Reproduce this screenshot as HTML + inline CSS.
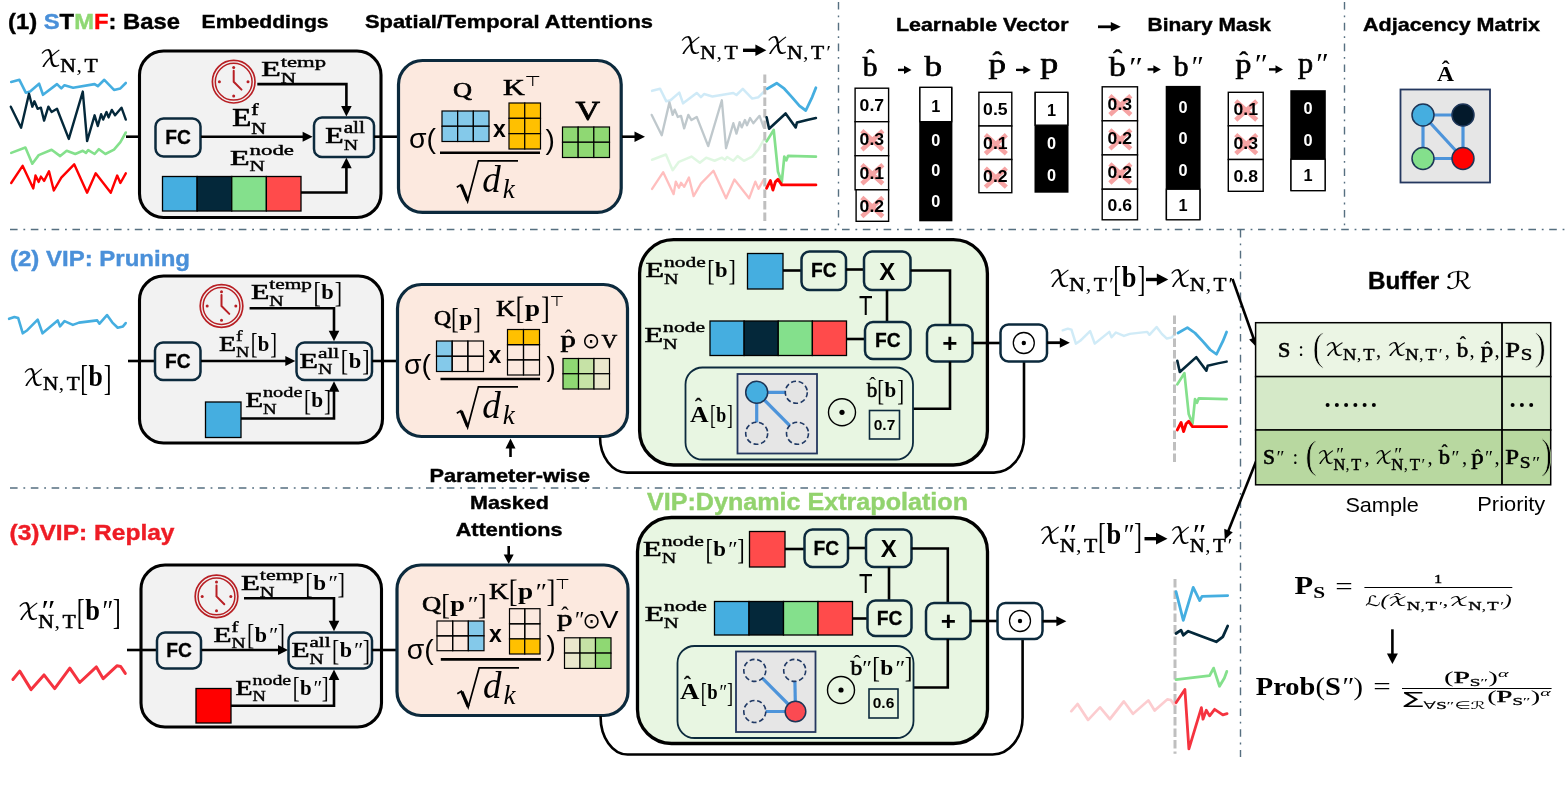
<!DOCTYPE html>
<html lang="en"><head><meta charset="utf-8"><title>STMF / VIP framework</title>
<style>
html,body{margin:0;padding:0;background:#fff}
body{width:1568px;height:790px;overflow:hidden}
svg{display:block}
text{white-space:pre}
</style></head><body>
<svg width="1568" height="790" viewBox="0 0 1568 790">
<line x1="10" y1="229.5" x2="1568" y2="229.5" stroke="#566f80" stroke-width="1.4" stroke-dasharray="7.6 5.8 1.8 5.6"/>
<line x1="10" y1="488" x2="1240" y2="488" stroke="#566f80" stroke-width="1.4" stroke-dasharray="7.6 5.8 1.8 5.6"/>
<line x1="838.5" y1="2" x2="838.5" y2="229" stroke="#566f80" stroke-width="1.4" stroke-dasharray="7.6 5.8 1.8 5.6"/>
<line x1="1344.5" y1="2" x2="1344.5" y2="229" stroke="#566f80" stroke-width="1.4" stroke-dasharray="7.6 5.8 1.8 5.6"/>
<line x1="1240.5" y1="230" x2="1240.5" y2="757" stroke="#566f80" stroke-width="1.4" stroke-dasharray="7.6 5.8 1.8 5.6"/>
<text x="8" y="28.8" font-family='"Liberation Sans", sans-serif' font-size="22.5" font-weight="bold" stroke-width="0.4" textLength="172" lengthAdjust="spacingAndGlyphs"><tspan stroke="#000">(1) </tspan><tspan fill="#4a90d9" stroke="#4a90d9">S</tspan><tspan stroke="#000">T</tspan><tspan fill="#8fd873" stroke="#8fd873">M</tspan><tspan fill="#ff0000" stroke="#ff0000">F</tspan><tspan stroke="#000">: Base</tspan></text>
<text x="201.6" y="28.3" font-family='"Liberation Sans", sans-serif' font-size="19" font-weight="bold" textLength="127" lengthAdjust="spacingAndGlyphs" stroke="#000" stroke-width="0.4">Embeddings</text>
<text x="365" y="28.3" font-family='"Liberation Sans", sans-serif' font-size="19" font-weight="bold" textLength="288" lengthAdjust="spacingAndGlyphs" stroke="#000" stroke-width="0.4">Spatial/Temporal Attentions</text>
<polyline points="11.2,81.9 19.4,79.8 25.8,92.7 30.1,91.6 39.1,83.7 43,94.8 57,84.1 61.3,88.4 64.5,85.2 73.1,87.7 94.6,84.1 97.8,86.2 104.3,79.8 114,89.9 120.4,88.4 125.8,83" fill="none" stroke="#45aee0" stroke-width="2.6" stroke-linejoin="round" stroke-linecap="round"/><polyline points="10.8,106.7 21.1,127.7 29,93.8 32.3,106.7 34.4,101.3 37.6,108.8 40.9,107.7 44.1,120.6 48.4,106.7 51.6,112 57,108.8 68.8,138.9 82.8,91.6 87.1,141.1 94.6,115.3 97.8,126 101.1,114.2 103.2,119.6 106.5,112 108.6,117.4 111.8,109.9 115.1,115.3 121.5,107.7 125.8,119.6" fill="none" stroke="#04283a" stroke-width="2.4" stroke-linejoin="round" stroke-linecap="round"/><polyline points="11.2,152.9 25.4,147.5 32.3,163.7 38.7,155.1 51.6,149.7 60.2,156.1 66.7,150.8 75.3,154 82.8,150.8 86,152.9 88.2,150.1 94.6,154 98.9,149.2 105.4,154 114,149.7 120.4,142.2 125.8,132.5" fill="none" stroke="#84e08c" stroke-width="2.6" stroke-linejoin="round" stroke-linecap="round"/><polyline points="11.2,183 22.6,165.8 33.3,188.4 35.5,175.5 38.7,181.9 40.9,176.6 44.1,180.9 49,171.2 53.8,190.5 61.3,177.6 74.2,164.3 87.1,192.7 95.7,173.3 110.8,192.7 117.2,175.5 120.4,183 125.8,173.3" fill="none" stroke="#ff0000" stroke-width="2.4" stroke-linejoin="round" stroke-linecap="round"/>
<g transform="translate(39.8 68) scale(0.913 1)"><g transform="translate(0 0) scale(1.04 1)"><text x="0" y="-0.67" font-family='"DejaVu Math TeX Gyre", "DejaVu Serif", "Liberation Serif", serif' font-size="23.94">𝒳</text></g><g transform="translate(22.52 0) scale(1.27 1)"><text x="0" y="3.99" font-family='"Liberation Serif", serif' font-size="18.62" stroke="#000" stroke-width="0.52">N</text><text x="14" y="3.99" font-family='"Liberation Serif", serif' font-size="18.62">,</text><text x="20.89" y="3.99" font-family='"Liberation Serif", serif' font-size="18.62" stroke="#000" stroke-width="0.52">T</text></g></g>
<line x1="126" y1="136.7" x2="141" y2="136.7" stroke="#000" stroke-width="2.6"/>
<rect x="139.5" y="51" width="241.5" height="166.5" rx="24" fill="#f2f2f2" stroke="#000" stroke-width="3.1"/>
<g fill="none" stroke="#b81f24"><circle cx="233.7" cy="81.7" r="21.3" stroke-width="1.7"/><circle cx="233.7" cy="81.7" r="18.4" stroke-width="1.5"/><path d="M233.7 70.8V81.7L241.5 89.6" stroke-width="2" stroke-linecap="round" stroke-linejoin="round"/></g><circle cx="233.7" cy="67.4" r="1.5" fill="#b81f24"/><circle cx="248" cy="81.7" r="1.5" fill="#b81f24"/><circle cx="233.7" cy="96" r="1.5" fill="#b81f24"/><circle cx="219.4" cy="81.7" r="1.5" fill="#b81f24"/>
<g transform="translate(261.2 76.4) scale(1.471 1)"><text x="0" y="0" font-family='"Liberation Serif", serif' font-size="21.7" stroke="#000" stroke-width="0.61">E</text><text x="13.25" y="6.73" font-family='"Liberation Serif", serif' font-size="14.32" stroke="#000" stroke-width="0.4">N</text><text x="13.25" y="-9.77" font-family='"Liberation Serif", serif' font-size="15.41" stroke="#000" stroke-width="0.43">temp</text></g>
<path d="M257.3 84.1H346.4V108" fill="none" stroke="#000" stroke-width="2.6"/>
<polygon points="346.4,116.5 341.1,106 351.7,106" fill="#000"/>
<rect x="155.5" y="118.5" width="45" height="38" rx="8" fill="#f2f2f2" stroke="#0c2a3d" stroke-width="2.5"/><text x="165.2" y="143.8" font-family='"Liberation Sans", sans-serif' font-size="20" font-weight="bold" textLength="25.6" lengthAdjust="spacingAndGlyphs" stroke="#000" stroke-width="0.3">FC</text>
<g transform="translate(232.3 126.3) scale(1.265 1)"><text x="0" y="0" font-family='"Liberation Serif", serif' font-size="24.5" stroke="#000" stroke-width="0.69">E</text><text x="14.96" y="7.59" font-family='"Liberation Serif", serif' font-size="16.17" stroke="#000" stroke-width="0.45">N</text><text x="14.96" y="-11.03" font-family='"Liberation Serif", serif' font-size="17.39" stroke="#000" stroke-width="0.49">f</text></g>
<line x1="201" y1="136.7" x2="304" y2="136.7" stroke="#000" stroke-width="2.6"/>
<polygon points="312.6,136.7 302.6,141.7 302.6,131.7" fill="#000"/>
<rect x="314" y="117.5" width="60" height="39.5" rx="8" fill="#f2f2f2" stroke="#0c2a3d" stroke-width="2.5"/>
<g transform="translate(325.3 143) scale(1.336 1)"><text x="0" y="0" font-family='"Liberation Serif", serif' font-size="22.5" stroke="#000" stroke-width="0.63">E</text><text x="13.74" y="6.97" font-family='"Liberation Serif", serif' font-size="14.85" stroke="#000" stroke-width="0.42">N</text><text x="13.74" y="-10.12" font-family='"Liberation Serif", serif' font-size="15.97" stroke="#000" stroke-width="0.45">all</text></g>
<g transform="translate(230 164.5) scale(1.481 1)"><text x="0" y="0" font-family='"Liberation Serif", serif' font-size="21.7" stroke="#000" stroke-width="0.61">E</text><text x="13.25" y="6.73" font-family='"Liberation Serif", serif' font-size="14.32" stroke="#000" stroke-width="0.4">N</text><text x="13.25" y="-9.77" font-family='"Liberation Serif", serif' font-size="15.41" stroke="#000" stroke-width="0.43">node</text></g>
<rect x="162.5" y="176.5" width="34.62" height="34.5" fill="#45aee0" stroke="#000" stroke-width="1.3"/><rect x="197.12" y="176.5" width="34.62" height="34.5" fill="#04283a" stroke="#000" stroke-width="1.3"/><rect x="231.75" y="176.5" width="34.62" height="34.5" fill="#84e08c" stroke="#000" stroke-width="1.3"/><rect x="266.38" y="176.5" width="34.62" height="34.5" fill="#ff4b4b" stroke="#000" stroke-width="1.3"/>
<path d="M301 192.5H346.4V166" fill="none" stroke="#000" stroke-width="2.6"/>
<polygon points="346.4,157.8 351.7,168.3 341.1,168.3" fill="#000"/>
<line x1="374" y1="136.7" x2="398" y2="136.7" stroke="#000" stroke-width="2.6"/>
<rect x="398.5" y="60.5" width="222.7" height="151.8" rx="24" fill="#fce9df" stroke="#0c2a3d" stroke-width="3.2"/>
<text x="409" y="147.5" font-family='"Liberation Sans", sans-serif' font-size="28" textLength="27" lengthAdjust="spacingAndGlyphs">σ(</text>
<rect x="442" y="111" width="15.67" height="15.25" fill="#84c9ea" stroke="#000" stroke-width="1.2"/><rect x="457.67" y="111" width="15.67" height="15.25" fill="#84c9ea" stroke="#000" stroke-width="1.2"/><rect x="473.33" y="111" width="15.67" height="15.25" fill="#84c9ea" stroke="#000" stroke-width="1.2"/><rect x="442" y="126.25" width="15.67" height="15.25" fill="#84c9ea" stroke="#000" stroke-width="1.2"/><rect x="457.67" y="126.25" width="15.67" height="15.25" fill="#84c9ea" stroke="#000" stroke-width="1.2"/><rect x="473.33" y="126.25" width="15.67" height="15.25" fill="#84c9ea" stroke="#000" stroke-width="1.2"/>
<g transform="translate(453 97) scale(1.253 1)"><text x="0" y="0" font-family='"Liberation Serif", serif' font-size="21" stroke="#000" stroke-width="0.59">Q</text></g>
<text x="493" y="137" font-family='"Liberation Sans", sans-serif' font-size="23" font-weight="bold">x</text>
<rect x="509" y="103" width="15.75" height="15.33" fill="#ffc000" stroke="#000" stroke-width="1.2"/><rect x="524.75" y="103" width="15.75" height="15.33" fill="#ffc000" stroke="#000" stroke-width="1.2"/><rect x="509" y="118.33" width="15.75" height="15.33" fill="#ffc000" stroke="#000" stroke-width="1.2"/><rect x="524.75" y="118.33" width="15.75" height="15.33" fill="#ffc000" stroke="#000" stroke-width="1.2"/><rect x="509" y="133.67" width="15.75" height="15.33" fill="#ffc000" stroke="#000" stroke-width="1.2"/><rect x="524.75" y="133.67" width="15.75" height="15.33" fill="#ffc000" stroke="#000" stroke-width="1.2"/>
<g transform="translate(503 94.5) scale(1.309 1)"><text x="0" y="0" font-family='"Liberation Serif", serif' font-size="23" stroke="#000" stroke-width="0.64">K</text><text x="16.61" y="-8.74" font-family='"DejaVu Sans", sans-serif' font-size="14.26">⊤</text></g>
<text x="545.5" y="149" font-family='"Liberation Sans", sans-serif' font-size="28">)</text>
<line x1="440" y1="152.7" x2="540" y2="152.7" stroke="#000" stroke-width="2.6"/>
<path d="M456.8 187.3L460.82 184.78L467.6 201.5L478.4 160.9H518" fill="none" stroke="#000" stroke-width="1.7" stroke-linejoin="miter"/><path d="M461.32 185.2L467.6 200.5" fill="none" stroke="#000" stroke-width="3.2"/><text x="482.3" y="191.89" font-family='"Liberation Serif", serif' font-size="37" font-style="italic">d</text><text x="502.7" y="197.89" font-family='"Liberation Serif", serif' font-size="27" font-style="italic">k</text>
<rect x="562.5" y="127" width="15.67" height="15.25" fill="#8fd873" stroke="#000" stroke-width="1.2"/><rect x="578.17" y="127" width="15.67" height="15.25" fill="#8fd873" stroke="#000" stroke-width="1.2"/><rect x="593.83" y="127" width="15.67" height="15.25" fill="#8fd873" stroke="#000" stroke-width="1.2"/><rect x="562.5" y="142.25" width="15.67" height="15.25" fill="#8fd873" stroke="#000" stroke-width="1.2"/><rect x="578.17" y="142.25" width="15.67" height="15.25" fill="#8fd873" stroke="#000" stroke-width="1.2"/><rect x="593.83" y="142.25" width="15.67" height="15.25" fill="#8fd873" stroke="#000" stroke-width="1.2"/>
<g transform="translate(575.5 120) scale(1.256 1)"><text x="0" y="0" font-family='"Liberation Serif", serif' font-size="27" stroke="#000" stroke-width="0.76">V</text></g>
<line x1="622" y1="136.7" x2="636" y2="136.7" stroke="#000" stroke-width="2.6"/>
<polygon points="645,136.7 634.5,142 634.5,131.4" fill="#000"/>
<g transform="translate(679.8 54.8) scale(0.912 1)"><g transform="translate(0 0) scale(1.04 1)"><text x="0" y="-0.67" font-family='"DejaVu Math TeX Gyre", "DejaVu Serif", "Liberation Serif", serif' font-size="23.94">𝒳</text></g><g transform="translate(22.52 0) scale(1.27 1)"><text x="0" y="3.99" font-family='"Liberation Serif", serif' font-size="18.62" stroke="#000" stroke-width="0.52">N</text><text x="14" y="3.99" font-family='"Liberation Serif", serif' font-size="18.62">,</text><text x="20.89" y="3.99" font-family='"Liberation Serif", serif' font-size="18.62" stroke="#000" stroke-width="0.52">T</text></g></g>
<line x1="743" y1="50.3" x2="757" y2="50.3" stroke="#000" stroke-width="3.4"/>
<polygon points="766.4,50.3 755.4,56 755.4,44.6" fill="#000"/>
<g transform="translate(766.4 54.8) scale(0.911 1)"><g transform="translate(0 0) scale(1.04 1)"><text x="0" y="-0.67" font-family='"DejaVu Math TeX Gyre", "DejaVu Serif", "Liberation Serif", serif' font-size="23.94">𝒳</text></g><g transform="translate(22.52 0) scale(1.27 1)"><text x="0" y="3.99" font-family='"Liberation Serif", serif' font-size="18.62" stroke="#000" stroke-width="0.52">N</text><text x="14" y="3.99" font-family='"Liberation Serif", serif' font-size="18.62">,</text><text x="20.89" y="3.99" font-family='"Liberation Serif", serif' font-size="18.62" stroke="#000" stroke-width="0.52">T</text><text x="33.01" y="3.99" font-family='"Liberation Serif", serif' font-size="18.62" font-style="italic">′</text></g></g>
<g transform="translate(641.2 11.4) scale(0.974 0.97)" opacity="0.25"><polyline points="11.2,81.9 19.4,79.8 25.8,92.7 30.1,91.6 39.1,83.7 43,94.8 57,84.1 61.3,88.4 64.5,85.2 73.1,87.7 94.6,84.1 97.8,86.2 104.3,79.8 114,89.9 120.4,88.4 125.8,83" fill="none" stroke="#45aee0" stroke-width="2.6" stroke-linejoin="round" stroke-linecap="round"/><polyline points="10.8,106.7 21.1,127.7 29,93.8 32.3,106.7 34.4,101.3 37.6,108.8 40.9,107.7 44.1,120.6 48.4,106.7 51.6,112 57,108.8 68.8,138.9 82.8,91.6 87.1,141.1 94.6,115.3 97.8,126 101.1,114.2 103.2,119.6 106.5,112 108.6,117.4 111.8,109.9 115.1,115.3 121.5,107.7 125.8,119.6" fill="none" stroke="#04283a" stroke-width="2.4" stroke-linejoin="round" stroke-linecap="round"/><polyline points="11.2,152.9 25.4,147.5 32.3,163.7 38.7,155.1 51.6,149.7 60.2,156.1 66.7,150.8 75.3,154 82.8,150.8 86,152.9 88.2,150.1 94.6,154 98.9,149.2 105.4,154 114,149.7 120.4,142.2 125.8,132.5" fill="none" stroke="#84e08c" stroke-width="2.6" stroke-linejoin="round" stroke-linecap="round"/><polyline points="11.2,183 22.6,165.8 33.3,188.4 35.5,175.5 38.7,181.9 40.9,176.6 44.1,180.9 49,171.2 53.8,190.5 61.3,177.6 74.2,164.3 87.1,192.7 95.7,173.3 110.8,192.7 117.2,175.5 120.4,183 125.8,173.3" fill="none" stroke="#ff0000" stroke-width="2.4" stroke-linejoin="round" stroke-linecap="round"/></g>
<line x1="764.8" y1="74.5" x2="764.8" y2="222.5" stroke="#bfbfbf" stroke-width="3" stroke-dasharray="8.5 3"/>
<polyline points="767.3,88.7 776.7,83.2 784.3,88.7 791.9,97.1 799.5,105.9 805.8,110.5 812.2,97.1 815.9,87.7" fill="none" stroke="#45aee0" stroke-width="2.8" stroke-linejoin="round" stroke-linecap="round"/><polyline points="766.6,117.3 769.1,128.7 785.6,113.5 795.7,127.5 797,122.4 807.1,119.9 815.9,118.1" fill="none" stroke="#04283a" stroke-width="2.6" stroke-linejoin="round" stroke-linecap="round"/><polyline points="766.6,141.4 773.7,130 778,171.8 781.8,181.9 784.3,156.6 786.3,160.4 788.1,155.8 815.9,156.6" fill="none" stroke="#84e08c" stroke-width="2.7" stroke-linejoin="round" stroke-linecap="round"/><polyline points="766.6,188.2 770.4,180.6 772.9,190 775.4,181.9 778,179.4 781.8,184.9 815.9,184.9" fill="none" stroke="#ff0000" stroke-width="2.9" stroke-linejoin="round" stroke-linecap="round"/>
<text x="895.9" y="31.4" font-family='"Liberation Sans", sans-serif' font-size="18.6" font-weight="bold" textLength="172.6" lengthAdjust="spacingAndGlyphs" stroke="#000" stroke-width="0.4">Learnable Vector</text>
<line x1="1098" y1="26.8" x2="1112" y2="26.8" stroke="#000" stroke-width="2.8"/>
<polygon points="1120.8,26.8 1110.8,31.6 1110.8,22" fill="#000"/>
<text x="1147.6" y="31.4" font-family='"Liberation Sans", sans-serif' font-size="18.6" font-weight="bold" textLength="123.4" lengthAdjust="spacingAndGlyphs" stroke="#000" stroke-width="0.4">Binary Mask</text>
<text x="1363" y="31.4" font-family='"Liberation Sans", sans-serif' font-size="18.6" font-weight="bold" textLength="177" lengthAdjust="spacingAndGlyphs" stroke="#000" stroke-width="0.4">Adjacency Matrix</text>
<g transform="translate(862.7 76.3) scale(1.057 1)" stroke="#000" stroke-width="0.7"><text x="0" y="0" font-family='"Liberation Serif", serif' font-size="28">b</text><text x="3.5" y="-10.18" font-family='"Liberation Serif", serif' font-size="22.15">ˆ</text></g>
<line x1="898" y1="69.9" x2="906.5" y2="69.9" stroke="#000" stroke-width="2.4"/><polygon points="911.5,69.9 904,74.1 904,65.7" fill="#000"/>
<g transform="translate(924.4 76.3) scale(1.154 1)" stroke="#000" stroke-width="0.7"><text x="0" y="0" font-family='"Liberation Serif", serif' font-size="30.5">b</text></g>
<g transform="translate(988.5 72.8) scale(1.250 1)" stroke="#000" stroke-width="0.7"><text x="0" y="0" font-family='"Liberation Serif", serif' font-size="28">p</text><text x="3.5" y="-4.38" font-family='"Liberation Serif", serif' font-size="22.15">ˆ</text></g>
<line x1="1016" y1="69.9" x2="1025.8" y2="69.9" stroke="#000" stroke-width="2.4"/><polygon points="1030.8,69.9 1023.3,74.1 1023.3,65.7" fill="#000"/>
<g transform="translate(1040.3 72.8) scale(1.180 1)" stroke="#000" stroke-width="0.7"><text x="0" y="0" font-family='"Liberation Serif", serif' font-size="30.5">p</text></g>
<g transform="translate(1109 76.3) scale(1.195 1)" stroke="#000" stroke-width="0.7"><text x="0" y="0" font-family='"Liberation Serif", serif' font-size="28">b</text><text x="15.12" y="0" font-family='"Liberation Serif", serif' font-size="28" font-style="italic" stroke="none">″</text><text x="3.5" y="-10.18" font-family='"Liberation Serif", serif' font-size="22.15">ˆ</text></g>
<line x1="1147.6" y1="69.4" x2="1155.9" y2="69.4" stroke="#000" stroke-width="2.4"/><polygon points="1160.9,69.4 1153.4,73.6 1153.4,65.2" fill="#000"/>
<g transform="translate(1173.8 76.3) scale(0.967 1)" stroke="#000" stroke-width="0.7"><text x="0" y="0" font-family='"Liberation Serif", serif' font-size="30.5">b</text><text x="16.47" y="0" font-family='"Liberation Serif", serif' font-size="30.5" font-style="italic" stroke="none">″</text></g>
<g transform="translate(1235.6 72.8) scale(1.135 1)" stroke="#000" stroke-width="0.7"><text x="0" y="0" font-family='"Liberation Serif", serif' font-size="28">p</text><text x="15.12" y="0" font-family='"Liberation Serif", serif' font-size="28" font-style="italic" stroke="none">″</text><text x="3.5" y="-4.38" font-family='"Liberation Serif", serif' font-size="22.15">ˆ</text></g>
<line x1="1269" y1="69.4" x2="1278" y2="69.4" stroke="#000" stroke-width="2.4"/><polygon points="1283,69.4 1275.5,73.6 1275.5,65.2" fill="#000"/>
<g transform="translate(1298 72.8) scale(0.994 1)" stroke="#000" stroke-width="0.7"><text x="0" y="0" font-family='"Liberation Serif", serif' font-size="30.5">p</text><text x="16.47" y="0" font-family='"Liberation Serif", serif' font-size="30.5" font-style="italic" stroke="none">″</text></g>
<rect x="855.1" y="88.2" width="33.5" height="33.5" fill="#fff" stroke="#000" stroke-width="1.4"/><text x="871.85" y="111.25" font-family='"Liberation Sans", sans-serif' font-size="16.3" font-weight="bold" text-anchor="middle" textLength="24.5" lengthAdjust="spacingAndGlyphs">0.7</text><rect x="855.1" y="121.7" width="33.5" height="34" fill="#fff" stroke="#000" stroke-width="1.4"/><path d="M861.85 130.7L882.85 149.7M882.85 130.7L861.85 149.7" stroke="#f6a3a3" stroke-width="4.6" fill="none"/><text x="871.85" y="145" font-family='"Liberation Sans", sans-serif' font-size="16.3" font-weight="bold" text-anchor="middle" textLength="24.5" lengthAdjust="spacingAndGlyphs">0.3</text><rect x="855.1" y="155.7" width="33.5" height="34.1" fill="#fff" stroke="#000" stroke-width="1.4"/><path d="M861.85 164.75L882.85 183.75M882.85 164.75L861.85 183.75" stroke="#f6a3a3" stroke-width="4.6" fill="none"/><text x="871.85" y="179.05" font-family='"Liberation Sans", sans-serif' font-size="16.3" font-weight="bold" text-anchor="middle" textLength="24.5" lengthAdjust="spacingAndGlyphs">0.1</text><rect x="856.1" y="189.8" width="32.5" height="31.5" fill="#fff" stroke="#000" stroke-width="1.4"/><path d="M861.85 197.55L882.85 216.55M882.85 197.55L861.85 216.55" stroke="#f6a3a3" stroke-width="4.6" fill="none"/><text x="871.85" y="211.85" font-family='"Liberation Sans", sans-serif' font-size="16.3" font-weight="bold" text-anchor="middle" textLength="24.5" lengthAdjust="spacingAndGlyphs">0.2</text>
<rect x="919.2" y="87.3" width="33.2" height="134" fill="#000"/><rect x="919.9" y="87.3" width="31.8" height="34.4" fill="#fff" stroke="#000" stroke-width="1.4"/><text x="935.8" y="112" font-family='"Liberation Sans", sans-serif' font-size="16.3" font-weight="bold" text-anchor="middle">1</text><text x="935.8" y="145.6" font-family='"Liberation Sans", sans-serif' font-size="16.3" font-weight="bold" fill="#fff" text-anchor="middle">0</text><text x="935.8" y="176" font-family='"Liberation Sans", sans-serif' font-size="16.3" font-weight="bold" fill="#fff" text-anchor="middle">0</text><text x="935.8" y="207.3" font-family='"Liberation Sans", sans-serif' font-size="16.3" font-weight="bold" fill="#fff" text-anchor="middle">0</text>
<rect x="978.9" y="92.3" width="32.9" height="33.7" fill="#fff" stroke="#000" stroke-width="1.4"/><text x="995.35" y="115.45" font-family='"Liberation Sans", sans-serif' font-size="16.3" font-weight="bold" text-anchor="middle" textLength="24.5" lengthAdjust="spacingAndGlyphs">0.5</text><rect x="978.9" y="126" width="32.9" height="33.5" fill="#fff" stroke="#000" stroke-width="1.4"/><path d="M985.35 134.75L1006.35 153.75M1006.35 134.75L985.35 153.75" stroke="#f6a3a3" stroke-width="4.6" fill="none"/><text x="995.35" y="149.05" font-family='"Liberation Sans", sans-serif' font-size="16.3" font-weight="bold" text-anchor="middle" textLength="24.5" lengthAdjust="spacingAndGlyphs">0.1</text><rect x="978.9" y="159.5" width="32.9" height="33.2" fill="#fff" stroke="#000" stroke-width="1.4"/><path d="M985.35 168.1L1006.35 187.1M1006.35 168.1L985.35 187.1" stroke="#f6a3a3" stroke-width="4.6" fill="none"/><text x="995.35" y="182.4" font-family='"Liberation Sans", sans-serif' font-size="16.3" font-weight="bold" text-anchor="middle" textLength="24.5" lengthAdjust="spacingAndGlyphs">0.2</text>
<rect x="1034.5" y="92.3" width="34" height="100.4" fill="#000"/><rect x="1035.2" y="92.3" width="32.6" height="32.9" fill="#fff" stroke="#000" stroke-width="1.4"/><text x="1051.5" y="115.9" font-family='"Liberation Sans", sans-serif' font-size="16.3" font-weight="bold" text-anchor="middle">1</text><text x="1051.5" y="149" font-family='"Liberation Sans", sans-serif' font-size="16.3" font-weight="bold" fill="#fff" text-anchor="middle">0</text><text x="1051.5" y="180.5" font-family='"Liberation Sans", sans-serif' font-size="16.3" font-weight="bold" fill="#fff" text-anchor="middle">0</text>
<rect x="1102.2" y="86.8" width="35.3" height="34" fill="#fff" stroke="#000" stroke-width="1.4"/><path d="M1109.85 95.8L1130.85 114.8M1130.85 95.8L1109.85 114.8" stroke="#f6a3a3" stroke-width="4.6" fill="none"/><text x="1119.85" y="110.1" font-family='"Liberation Sans", sans-serif' font-size="16.3" font-weight="bold" text-anchor="middle" textLength="24.5" lengthAdjust="spacingAndGlyphs">0.3</text><rect x="1102.2" y="120.8" width="35.3" height="34.1" fill="#fff" stroke="#000" stroke-width="1.4"/><path d="M1109.85 129.85L1130.85 148.85M1130.85 129.85L1109.85 148.85" stroke="#f6a3a3" stroke-width="4.6" fill="none"/><text x="1119.85" y="144.15" font-family='"Liberation Sans", sans-serif' font-size="16.3" font-weight="bold" text-anchor="middle" textLength="24.5" lengthAdjust="spacingAndGlyphs">0.2</text><rect x="1102.2" y="154.9" width="35.3" height="34.3" fill="#fff" stroke="#000" stroke-width="1.4"/><path d="M1109.85 164.05L1130.85 183.05M1130.85 164.05L1109.85 183.05" stroke="#f6a3a3" stroke-width="4.6" fill="none"/><text x="1119.85" y="178.35" font-family='"Liberation Sans", sans-serif' font-size="16.3" font-weight="bold" text-anchor="middle" textLength="24.5" lengthAdjust="spacingAndGlyphs">0.2</text><rect x="1102.2" y="189.2" width="35.3" height="30.6" fill="#fff" stroke="#000" stroke-width="1.4"/><text x="1119.85" y="210.8" font-family='"Liberation Sans", sans-serif' font-size="16.3" font-weight="bold" text-anchor="middle" textLength="24.5" lengthAdjust="spacingAndGlyphs">0.6</text>
<rect x="1165.7" y="85.9" width="34.9" height="133.9" fill="#000"/><rect x="1166.4" y="189.2" width="33.5" height="30.6" fill="#fff" stroke="#000" stroke-width="1.4"/><text x="1183.15" y="113" font-family='"Liberation Sans", sans-serif' font-size="16.3" font-weight="bold" fill="#fff" text-anchor="middle">0</text><text x="1183.15" y="144" font-family='"Liberation Sans", sans-serif' font-size="16.3" font-weight="bold" fill="#fff" text-anchor="middle">0</text><text x="1183.15" y="176" font-family='"Liberation Sans", sans-serif' font-size="16.3" font-weight="bold" fill="#fff" text-anchor="middle">0</text><text x="1183.15" y="211" font-family='"Liberation Sans", sans-serif' font-size="16.3" font-weight="bold" text-anchor="middle">1</text>
<rect x="1228.3" y="92.3" width="34.9" height="33.5" fill="#fff" stroke="#000" stroke-width="1.4"/><path d="M1235.75 101.05L1256.75 120.05M1256.75 101.05L1235.75 120.05" stroke="#f6a3a3" stroke-width="4.6" fill="none"/><text x="1245.75" y="115.35" font-family='"Liberation Sans", sans-serif' font-size="16.3" font-weight="bold" text-anchor="middle" textLength="24.5" lengthAdjust="spacingAndGlyphs">0.1</text><rect x="1228.3" y="125.8" width="34.9" height="33.7" fill="#fff" stroke="#000" stroke-width="1.4"/><path d="M1235.75 134.65L1256.75 153.65M1256.75 134.65L1235.75 153.65" stroke="#f6a3a3" stroke-width="4.6" fill="none"/><text x="1245.75" y="148.95" font-family='"Liberation Sans", sans-serif' font-size="16.3" font-weight="bold" text-anchor="middle" textLength="24.5" lengthAdjust="spacingAndGlyphs">0.3</text><rect x="1228.3" y="159.5" width="34.9" height="31.8" fill="#fff" stroke="#000" stroke-width="1.4"/><text x="1245.75" y="181.7" font-family='"Liberation Sans", sans-serif' font-size="16.3" font-weight="bold" text-anchor="middle" textLength="24.5" lengthAdjust="spacingAndGlyphs">0.8</text>
<rect x="1290.3" y="90.2" width="35.5" height="100.5" fill="#000"/><rect x="1291" y="159.2" width="34.1" height="31.5" fill="#fff" stroke="#000" stroke-width="1.4"/><text x="1308.05" y="113.5" font-family='"Liberation Sans", sans-serif' font-size="16.3" font-weight="bold" fill="#fff" text-anchor="middle">0</text><text x="1308.05" y="145.6" font-family='"Liberation Sans", sans-serif' font-size="16.3" font-weight="bold" fill="#fff" text-anchor="middle">0</text><text x="1308.05" y="181" font-family='"Liberation Sans", sans-serif' font-size="16.3" font-weight="bold" text-anchor="middle">1</text>
<g transform="translate(1437 81.3) scale(1.095 1)"><text x="0" y="0" font-family='"Liberation Serif", serif' font-size="21.5" font-weight="bold">A</text></g>
<text x="1441.64" y="76.82" font-family='"Liberation Serif", serif' font-size="23.73" font-weight="bold">ˆ</text>
<rect x="1400.5" y="89.5" width="89.5" height="93" fill="#e6e6e6" stroke="#24375f" stroke-width="1.8"/>
<line x1="1423" y1="115" x2="1463" y2="115" stroke="#4d94da" stroke-width="3.2"/>
<line x1="1423" y1="115" x2="1423" y2="158.5" stroke="#4d94da" stroke-width="3.2"/>
<line x1="1423" y1="115" x2="1463" y2="158.5" stroke="#4d94da" stroke-width="3.2"/>
<line x1="1463" y1="115" x2="1463" y2="158.5" stroke="#4d94da" stroke-width="3.2"/>
<line x1="1423" y1="158.5" x2="1463" y2="158.5" stroke="#4d94da" stroke-width="3.2"/>
<circle cx="1423" cy="115" r="11" fill="#45aee0" stroke="#1d3557" stroke-width="1.5"/>
<circle cx="1463" cy="115" r="11" fill="#03192b" stroke="#1d3557" stroke-width="1.5"/>
<circle cx="1423" cy="158.5" r="11" fill="#84e08c" stroke="#1d3557" stroke-width="1.5"/>
<circle cx="1463" cy="158.5" r="11" fill="#ff0000" stroke="#1d3557" stroke-width="1.5"/>
<text x="10" y="266" font-family='"Liberation Sans", sans-serif' font-size="22.5" font-weight="bold" fill="#4a90d9" textLength="180" lengthAdjust="spacingAndGlyphs" stroke="#4a90d9" stroke-width="0.4">(2) VIP: Pruning</text>
<polyline points="9.1,318.8 14.4,317 18.2,318.1 22.8,333.3 27.3,330.2 37.7,319.6 42.5,333.3 57.7,320.4 60,326.4 64.5,321.1 72.9,324.9 79,322.6 97.2,320.4 99.5,323.7 107,315.1 112.4,322.6 117.7,327.7 123,326.4 125.7,323.1" fill="none" stroke="#45aee0" stroke-width="2.6" stroke-linejoin="round" stroke-linecap="round"/>
<g transform="translate(22.8 386.4) scale(0.894 1)"><g transform="translate(0 0) scale(1.04 1)"><text x="0" y="-0.67" font-family='"DejaVu Math TeX Gyre", "DejaVu Serif", "Liberation Serif", serif' font-size="23.94">𝒳</text></g><g transform="translate(22.52 0) scale(1.27 1)"><text x="0" y="3.99" font-family='"Liberation Serif", serif' font-size="18.62" stroke="#000" stroke-width="0.52">N</text><text x="14" y="3.99" font-family='"Liberation Serif", serif' font-size="18.62">,</text><text x="20.89" y="3.99" font-family='"Liberation Serif", serif' font-size="18.62" stroke="#000" stroke-width="0.52">T</text></g><g transform="translate(64.3 0) scale(0.72 1)"><text x="0" y="3.85" font-family='"Liberation Serif", serif' font-size="36.2">[</text></g><text x="73.55" y="0" font-family='"Liberation Serif", serif' font-size="28.73" font-weight="bold">b</text><g transform="translate(90.68 0) scale(0.72 1)"><text x="0" y="3.85" font-family='"Liberation Serif", serif' font-size="36.2">]</text></g></g>
<rect x="139.5" y="276" width="243" height="167" rx="24" fill="#f2f2f2" stroke="#000" stroke-width="3.1"/>
<line x1="128" y1="361" x2="155" y2="361" stroke="#000" stroke-width="2.6"/>
<g fill="none" stroke="#b81f24"><circle cx="221.5" cy="306" r="21.3" stroke-width="1.7"/><circle cx="221.5" cy="306" r="18.4" stroke-width="1.5"/><path d="M221.5 295.1V306L229.3 313.9" stroke-width="2" stroke-linecap="round" stroke-linejoin="round"/></g><circle cx="221.5" cy="291.7" r="1.5" fill="#b81f24"/><circle cx="235.8" cy="306" r="1.5" fill="#b81f24"/><circle cx="221.5" cy="320.3" r="1.5" fill="#b81f24"/><circle cx="207.2" cy="306" r="1.5" fill="#b81f24"/>
<g transform="translate(251 299) scale(1.182 1)"><g transform="translate(0 0) scale(1.17 1)"><text x="0" y="0" font-family='"Liberation Serif", serif' font-size="21.7" stroke="#000" stroke-width="0.61">E</text><text x="13.25" y="6.73" font-family='"Liberation Serif", serif' font-size="14.32" stroke="#000" stroke-width="0.4">N</text><text x="13.25" y="-9.77" font-family='"Liberation Serif", serif' font-size="15.41" stroke="#000" stroke-width="0.43">temp</text></g><g transform="translate(52.85 0) scale(0.876 1)"><g transform="translate(0 0) scale(0.72 1)"><text x="0" y="2.91" font-family='"Liberation Serif", serif' font-size="29.51">[</text></g><text x="7.51" y="0" font-family='"Liberation Serif", serif' font-size="21.7" font-weight="bold">b</text><g transform="translate(20.45 0) scale(0.72 1)"><text x="0" y="2.91" font-family='"Liberation Serif", serif' font-size="29.51">]</text></g></g></g>
<path d="M249.6 308.2H334V333" fill="none" stroke="#000" stroke-width="2.6"/>
<polygon points="334,341.3 328.7,330.8 339.3,330.8" fill="#000"/>
<rect x="155" y="342.5" width="45.5" height="37.5" rx="8" fill="#f2f2f2" stroke="#0c2a3d" stroke-width="2.5"/><text x="164.95" y="367.55" font-family='"Liberation Sans", sans-serif' font-size="20" font-weight="bold" textLength="25.6" lengthAdjust="spacingAndGlyphs" stroke="#000" stroke-width="0.3">FC</text>
<g transform="translate(219 350.5) scale(1.094 1)"><g transform="translate(0 0) scale(1.17 1)"><text x="0" y="0" font-family='"Liberation Serif", serif' font-size="21.7" stroke="#000" stroke-width="0.61">E</text><text x="13.25" y="6.73" font-family='"Liberation Serif", serif' font-size="14.32" stroke="#000" stroke-width="0.4">N</text><text x="13.25" y="-9.77" font-family='"Liberation Serif", serif' font-size="15.41" stroke="#000" stroke-width="0.43">f</text></g><g transform="translate(28.91 0) scale(0.876 1)"><g transform="translate(0 0) scale(0.72 1)"><text x="0" y="2.91" font-family='"Liberation Serif", serif' font-size="29.51">[</text></g><text x="7.51" y="0" font-family='"Liberation Serif", serif' font-size="21.7" font-weight="bold">b</text><g transform="translate(20.45 0) scale(0.72 1)"><text x="0" y="2.91" font-family='"Liberation Serif", serif' font-size="29.51">]</text></g></g></g>
<line x1="201" y1="361" x2="287" y2="361" stroke="#000" stroke-width="2.6"/>
<polygon points="295.3,361 285.3,366 285.3,356" fill="#000"/>
<rect x="296.5" y="342.5" width="75.5" height="37.5" rx="8" fill="#f2f2f2" stroke="#0c2a3d" stroke-width="2.5"/>
<g transform="translate(299.5 367.5) scale(1.188 1)"><g transform="translate(0 0) scale(1.17 1)"><text x="0" y="0" font-family='"Liberation Serif", serif' font-size="21.7" stroke="#000" stroke-width="0.61">E</text><text x="13.25" y="6.73" font-family='"Liberation Serif", serif' font-size="14.32" stroke="#000" stroke-width="0.4">N</text><text x="13.25" y="-9.77" font-family='"Liberation Serif", serif' font-size="15.41" stroke="#000" stroke-width="0.43">all</text></g><g transform="translate(34.82 0) scale(0.876 1)"><g transform="translate(0 0) scale(0.72 1)"><text x="0" y="2.91" font-family='"Liberation Serif", serif' font-size="29.51">[</text></g><text x="7.51" y="0" font-family='"Liberation Serif", serif' font-size="21.7" font-weight="bold">b</text><g transform="translate(20.45 0) scale(0.72 1)"><text x="0" y="2.91" font-family='"Liberation Serif", serif' font-size="29.51">]</text></g></g></g>
<rect x="205.5" y="402" width="35.5" height="35.5" fill="#45aee0" stroke="#000" stroke-width="1.3"/>
<g transform="translate(245.5 407) scale(1.126 1)"><g transform="translate(0 0) scale(1.17 1)"><text x="0" y="0" font-family='"Liberation Serif", serif' font-size="21.7" stroke="#000" stroke-width="0.61">E</text><text x="13.25" y="6.73" font-family='"Liberation Serif", serif' font-size="14.32" stroke="#000" stroke-width="0.4">N</text><text x="13.25" y="-9.77" font-family='"Liberation Serif", serif' font-size="15.41" stroke="#000" stroke-width="0.43">node</text></g><g transform="translate(51.85 0) scale(0.876 1)"><g transform="translate(0 0) scale(0.72 1)"><text x="0" y="2.91" font-family='"Liberation Serif", serif' font-size="29.51">[</text></g><text x="7.51" y="0" font-family='"Liberation Serif", serif' font-size="21.7" font-weight="bold">b</text><g transform="translate(20.45 0) scale(0.72 1)"><text x="0" y="2.91" font-family='"Liberation Serif", serif' font-size="29.51">]</text></g></g></g>
<path d="M241 418.5H334V390" fill="none" stroke="#000" stroke-width="2.6"/>
<polygon points="334,381.3 339.3,391.8 328.7,391.8" fill="#000"/>
<line x1="372" y1="361" x2="397" y2="361" stroke="#000" stroke-width="2.6"/>
<rect x="397.5" y="284.5" width="230" height="152" rx="24" fill="#fce9df" stroke="#0c2a3d" stroke-width="3.2"/>
<text x="404" y="373.5" font-family='"Liberation Sans", sans-serif' font-size="28" textLength="27" lengthAdjust="spacingAndGlyphs">σ(</text>
<rect x="436.5" y="341" width="15.67" height="15.25" fill="#84c9ea" stroke="#000" stroke-width="1.2"/><rect x="452.17" y="341" width="15.67" height="15.25" fill="none" stroke="#000" stroke-width="1.2"/><rect x="467.83" y="341" width="15.67" height="15.25" fill="none" stroke="#000" stroke-width="1.2"/><rect x="436.5" y="356.25" width="15.67" height="15.25" fill="#84c9ea" stroke="#000" stroke-width="1.2"/><rect x="452.17" y="356.25" width="15.67" height="15.25" fill="none" stroke="#000" stroke-width="1.2"/><rect x="467.83" y="356.25" width="15.67" height="15.25" fill="none" stroke="#000" stroke-width="1.2"/>
<g transform="translate(434 325) scale(1.124 1)"><text x="0" y="0" font-family='"Liberation Serif", serif' font-size="21" stroke="#000" stroke-width="0.59">Q</text><g transform="translate(15.16 0) scale(0.72 1)"><text x="0" y="2.81" font-family='"Liberation Serif", serif' font-size="28.56">[</text></g><text x="22.43" y="0" font-family='"Liberation Serif", serif' font-size="21" font-weight="bold">p</text><g transform="translate(34.95 0) scale(0.72 1)"><text x="0" y="2.81" font-family='"Liberation Serif", serif' font-size="28.56">]</text></g></g>
<text x="488.5" y="363.2" font-family='"Liberation Sans", sans-serif' font-size="23" font-weight="bold">x</text>
<rect x="507.5" y="329.5" width="16" height="15.17" fill="#ffc000" stroke="#000" stroke-width="1.2"/><rect x="523.5" y="329.5" width="16" height="15.17" fill="#ffc000" stroke="#000" stroke-width="1.2"/><rect x="507.5" y="344.67" width="16" height="15.17" fill="none" stroke="#000" stroke-width="1.2"/><rect x="523.5" y="344.67" width="16" height="15.17" fill="none" stroke="#000" stroke-width="1.2"/><rect x="507.5" y="359.83" width="16" height="15.17" fill="none" stroke="#000" stroke-width="1.2"/><rect x="523.5" y="359.83" width="16" height="15.17" fill="none" stroke="#000" stroke-width="1.2"/>
<g transform="translate(496 316) scale(1.177 1)"><text x="0" y="0" font-family='"Liberation Serif", serif' font-size="23" stroke="#000" stroke-width="0.64">K</text><g transform="translate(16.61 0) scale(0.72 1)"><text x="0" y="3.08" font-family='"Liberation Serif", serif' font-size="31.28">[</text></g><text x="24.57" y="0" font-family='"Liberation Serif", serif' font-size="23" font-weight="bold">p</text><g transform="translate(38.28 0) scale(0.72 1)"><text x="0" y="3.08" font-family='"Liberation Serif", serif' font-size="31.28">]</text></g><text x="45.78" y="-9.66" font-family='"DejaVu Sans", sans-serif' font-size="14.26">⊤</text></g>
<text x="546.5" y="375.5" font-family='"Liberation Sans", sans-serif' font-size="28">)</text>
<line x1="440.5" y1="379" x2="540" y2="379" stroke="#000" stroke-width="2.6"/>
<path d="M456.8 413.3L460.82 410.78L467.6 427.5L478.4 386.9H518" fill="none" stroke="#000" stroke-width="1.7" stroke-linejoin="miter"/><path d="M461.32 411.2L467.6 426.5" fill="none" stroke="#000" stroke-width="3.2"/><text x="482.3" y="417.89" font-family='"Liberation Serif", serif' font-size="37" font-style="italic">d</text><text x="502.7" y="423.89" font-family='"Liberation Serif", serif' font-size="27" font-style="italic">k</text>
<g transform="translate(560.5 346.8) scale(1.360 1)"><text x="0" y="0" font-family='"Liberation Serif", serif' font-size="22.5" stroke="#000" stroke-width="0.63">p</text></g>
<text x="564.7" y="345.72" font-family='"Liberation Serif", serif' font-size="22.15">ˆ</text>
<text x="581.92" y="347.61" font-family='"DejaVu Sans", sans-serif' font-size="21.68">⊙</text>
<g transform="translate(601.5 347.5) scale(1.122 1)"><text x="0" y="0" font-family='"Liberation Serif", serif' font-size="19.5" stroke="#000" stroke-width="0.55">V</text></g>
<rect x="563" y="358.5" width="15.5" height="15.25" fill="#8fd873" stroke="#000" stroke-width="1.2"/><rect x="578.5" y="358.5" width="15.5" height="15.25" fill="#c6e2a6" stroke="#000" stroke-width="1.2"/><rect x="594" y="358.5" width="15.5" height="15.25" fill="#ebe8cd" stroke="#000" stroke-width="1.2"/><rect x="563" y="373.75" width="15.5" height="15.25" fill="#8fd873" stroke="#000" stroke-width="1.2"/><rect x="578.5" y="373.75" width="15.5" height="15.25" fill="#c6e2a6" stroke="#000" stroke-width="1.2"/><rect x="594" y="373.75" width="15.5" height="15.25" fill="#ebe8cd" stroke="#000" stroke-width="1.2"/>
<line x1="510.5" y1="457" x2="510.5" y2="447" stroke="#000" stroke-width="2.6"/>
<polygon points="510.5,438.5 515.5,448.5 505.5,448.5" fill="#000"/>
<text x="429.5" y="481.8" font-family='"Liberation Sans", sans-serif' font-size="18.6" font-weight="bold" textLength="160.5" lengthAdjust="spacingAndGlyphs" stroke="#000" stroke-width="0.4">Parameter-wise</text>
<path d="M600 437A27 35.6 0 0 0 627 472.6H994A30 35.6 0 0 0 1024 437V361.5" fill="none" stroke="#000" stroke-width="2.6"/>
<rect x="639.6" y="239.6" width="347.8" height="225.4" rx="34" fill="#e8f6e2" stroke="#000" stroke-width="3.3"/>
<g transform="translate(645.6 277) scale(1.190 1)"><g transform="translate(0 0) scale(1.17 1)"><text x="0" y="0" font-family='"Liberation Serif", serif' font-size="21.7" stroke="#000" stroke-width="0.61">E</text><text x="13.25" y="6.73" font-family='"Liberation Serif", serif' font-size="14.32" stroke="#000" stroke-width="0.4">N</text><text x="13.25" y="-9.77" font-family='"Liberation Serif", serif' font-size="15.41" stroke="#000" stroke-width="0.43">node</text></g><g transform="translate(51.85 0) scale(0.876 1)"><g transform="translate(0 0) scale(0.72 1)"><text x="0" y="2.91" font-family='"Liberation Serif", serif' font-size="29.51">[</text></g><text x="7.51" y="0" font-family='"Liberation Serif", serif' font-size="21.7" font-weight="bold">b</text><g transform="translate(20.45 0) scale(0.72 1)"><text x="0" y="2.91" font-family='"Liberation Serif", serif' font-size="29.51">]</text></g></g></g>
<rect x="747.5" y="253.5" width="35.5" height="35.5" fill="#45aee0" stroke="#000" stroke-width="1.3"/>
<line x1="783" y1="270.5" x2="801" y2="270.5" stroke="#000" stroke-width="2.6"/>
<rect x="801.5" y="251.5" width="44.5" height="38.5" rx="8" fill="#e8f6e2" stroke="#0c2a3d" stroke-width="2.5"/><text x="810.95" y="277.05" font-family='"Liberation Sans", sans-serif' font-size="20" font-weight="bold" textLength="25.6" lengthAdjust="spacingAndGlyphs" stroke="#000" stroke-width="0.3">FC</text>
<line x1="846" y1="269.5" x2="864" y2="269.5" stroke="#000" stroke-width="2.6"/>
<rect x="864" y="251.5" width="46.5" height="38.5" rx="8" fill="#e8f6e2" stroke="#0c2a3d" stroke-width="2.5"/><text x="887.25" y="279.89" font-family='"Liberation Sans", sans-serif' font-size="24" font-weight="bold" text-anchor="middle">X</text>
<text x="859" y="314.7" font-family='"Liberation Sans", sans-serif' font-size="27" textLength="13.5" lengthAdjust="spacingAndGlyphs">T</text>
<line x1="887" y1="290" x2="887" y2="322" stroke="#000" stroke-width="2.6"/>
<g transform="translate(644.6 342) scale(1.398 1)"><text x="0" y="0" font-family='"Liberation Serif", serif' font-size="21.7" stroke="#000" stroke-width="0.61">E</text><text x="13.25" y="6.73" font-family='"Liberation Serif", serif' font-size="14.32" stroke="#000" stroke-width="0.4">N</text><text x="13.25" y="-9.77" font-family='"Liberation Serif", serif' font-size="15.41" stroke="#000" stroke-width="0.43">node</text></g>
<rect x="710" y="321" width="34.12" height="34.5" fill="#45aee0" stroke="#000" stroke-width="1.3"/><rect x="744.12" y="321" width="34.12" height="34.5" fill="#04283a" stroke="#000" stroke-width="1.3"/><rect x="778.25" y="321" width="34.12" height="34.5" fill="#84e08c" stroke="#000" stroke-width="1.3"/><rect x="812.38" y="321" width="34.12" height="34.5" fill="#ff4b4b" stroke="#000" stroke-width="1.3"/>
<line x1="846.5" y1="339" x2="865" y2="339" stroke="#000" stroke-width="2.6"/>
<rect x="865" y="322" width="45.5" height="37" rx="8" fill="#e8f6e2" stroke="#0c2a3d" stroke-width="2.5"/><text x="874.95" y="346.8" font-family='"Liberation Sans", sans-serif' font-size="20" font-weight="bold" textLength="25.6" lengthAdjust="spacingAndGlyphs" stroke="#000" stroke-width="0.3">FC</text>
<path d="M910.5 270.5H950V325" fill="none" stroke="#000" stroke-width="2.6"/>
<rect x="927" y="325" width="45.5" height="36.5" rx="8" fill="#e8f6e2" stroke="#0c2a3d" stroke-width="2.5"/><text x="949.75" y="352.11" font-family='"Liberation Sans", sans-serif' font-size="26" font-weight="bold" text-anchor="middle">+</text>
<path d="M950 361.5V408.7H913" fill="none" stroke="#000" stroke-width="2.6"/>
<line x1="972.5" y1="343" x2="1000" y2="343" stroke="#000" stroke-width="2.6"/>
<rect x="1000.5" y="324.5" width="46.5" height="37" rx="8" fill="#fff" stroke="#0c2a3d" stroke-width="2.5"/>
<circle cx="1023.8" cy="343" r="10.5" fill="none" stroke="#000" stroke-width="1.3"/><circle cx="1023.8" cy="343" r="2.2"/>
<line x1="1047" y1="342.7" x2="1061" y2="342.7" stroke="#000" stroke-width="2.8"/>
<polygon points="1069.8,342.7 1059.8,347.7 1059.8,337.7" fill="#000"/>
<rect x="685.5" y="367.5" width="227.5" height="92" rx="17" fill="#e8f6e2" stroke="#0c2a3d" stroke-width="1.8"/>
<g transform="translate(690 421.5) scale(0.976 1)"><g transform="translate(0 0) scale(1.15 1)"><text x="0" y="0" font-family='"Liberation Serif", serif' font-size="23" font-weight="bold">A</text></g><g transform="translate(20.48 0) scale(0.92 1)"><g transform="translate(0 0) scale(0.72 1)"><text x="0" y="2.68" font-family='"Liberation Serif", serif' font-size="27.21">[</text></g><text x="6.92" y="0" font-family='"Liberation Serif", serif' font-size="20.01" font-weight="bold">b</text><g transform="translate(18.86 0) scale(0.72 1)"><text x="0" y="2.68" font-family='"Liberation Serif", serif' font-size="27.21">]</text></g></g></g>
<text x="698.5" y="411" font-family='"Liberation Serif", serif' font-size="19" text-anchor="middle" stroke="#000" stroke-width="0.53">ˆ</text>
<rect x="737.5" y="374" width="79.5" height="79.5" fill="#e6e6e6" stroke="#24375f" stroke-width="1.8"/>
<line x1="756.7" y1="392.3" x2="796.3" y2="392.3" stroke="#4d94da" stroke-width="3.2"/>
<line x1="756.7" y1="392.3" x2="756.7" y2="433.3" stroke="#4d94da" stroke-width="3.2"/>
<line x1="756.7" y1="392.3" x2="797.5" y2="433.3" stroke="#4d94da" stroke-width="3.2"/>
<circle cx="756.7" cy="392.3" r="11" fill="#45aee0" stroke="#1d3557" stroke-width="1.5"/>
<circle cx="796.3" cy="392.3" r="11" fill="#e4e4e4"/><circle cx="796.3" cy="392.3" r="11" fill="none" stroke="#1f3864" stroke-width="1.6" stroke-dasharray="5 2.7"/>
<circle cx="756.7" cy="433.3" r="11" fill="#e4e4e4"/><circle cx="756.7" cy="433.3" r="11" fill="none" stroke="#1f3864" stroke-width="1.6" stroke-dasharray="5 2.7"/>
<circle cx="797.5" cy="433.3" r="11" fill="#e4e4e4"/><circle cx="797.5" cy="433.3" r="11" fill="none" stroke="#1f3864" stroke-width="1.6" stroke-dasharray="5 2.7"/>
<circle cx="842" cy="412.3" r="13.5" fill="none" stroke="#000" stroke-width="1.4"/><circle cx="842" cy="412.3" r="2.6"/>
<g transform="translate(866.8 397) scale(0.956 1)"><text x="0" y="0" font-family='"Liberation Serif", serif' font-size="22" stroke="#000" stroke-width="0.62">b</text><g transform="translate(11 0) scale(0.72 1)"><text x="0" y="2.95" font-family='"Liberation Serif", serif' font-size="29.92">[</text></g><text x="18.62" y="0" font-family='"Liberation Serif", serif' font-size="22" font-weight="bold">b</text><g transform="translate(31.73 0) scale(0.72 1)"><text x="0" y="2.95" font-family='"Liberation Serif", serif' font-size="29.92">]</text></g><text x="6" y="-4.84" font-family='"Liberation Serif", serif' font-size="20.9" text-anchor="middle">ˆ</text></g>
<rect x="869.5" y="410.5" width="30" height="28.5" fill="#e8f6e2" stroke="#0c2a3d" stroke-width="1.6"/>
<text x="884.5" y="429.5" font-family='"Liberation Sans", sans-serif' font-size="15.5" font-weight="bold" text-anchor="middle">0.7</text>
<g transform="translate(1048.7 287.3) scale(0.917 1)"><g transform="translate(0 0) scale(1.04 1)"><text x="0" y="-0.67" font-family='"DejaVu Math TeX Gyre", "DejaVu Serif", "Liberation Serif", serif' font-size="23.94">𝒳</text></g><g transform="translate(22.52 0) scale(1.27 1)"><text x="0" y="3.99" font-family='"Liberation Serif", serif' font-size="18.62" stroke="#000" stroke-width="0.52">N</text><text x="14" y="3.99" font-family='"Liberation Serif", serif' font-size="18.62">,</text><text x="20.89" y="3.99" font-family='"Liberation Serif", serif' font-size="18.62" stroke="#000" stroke-width="0.52">T</text><text x="33.01" y="3.99" font-family='"Liberation Serif", serif' font-size="18.62" font-style="italic">′</text></g><g transform="translate(70.42 0) scale(0.72 1)"><text x="0" y="3.85" font-family='"Liberation Serif", serif' font-size="36.2">[</text></g><text x="79.67" y="0" font-family='"Liberation Serif", serif' font-size="28.73" font-weight="bold">b</text><g transform="translate(96.8 0) scale(0.72 1)"><text x="0" y="3.85" font-family='"Liberation Serif", serif' font-size="36.2">]</text></g></g>
<line x1="1146" y1="279.5" x2="1159" y2="279.5" stroke="#000" stroke-width="3.4"/>
<polygon points="1168.3,279.5 1156.8,285.4 1156.8,273.6" fill="#000"/>
<g transform="translate(1169.5 287.3) scale(0.898 1)"><g transform="translate(0 0) scale(1.04 1)"><text x="0" y="-0.67" font-family='"DejaVu Math TeX Gyre", "DejaVu Serif", "Liberation Serif", serif' font-size="23.94">𝒳</text></g><g transform="translate(22.52 0) scale(1.27 1)"><text x="0" y="3.99" font-family='"Liberation Serif", serif' font-size="18.62" stroke="#000" stroke-width="0.52">N</text><text x="14" y="3.99" font-family='"Liberation Serif", serif' font-size="18.62">,</text><text x="20.89" y="3.99" font-family='"Liberation Serif", serif' font-size="18.62" stroke="#000" stroke-width="0.52">T</text><text x="33.01" y="3.99" font-family='"Liberation Serif", serif' font-size="18.62" font-style="italic">′</text></g></g>
<g transform="translate(1054 37.7) scale(0.959 0.918)" opacity="0.25"><polyline points="9.1,318.8 14.4,317 18.2,318.1 22.8,333.3 27.3,330.2 37.7,319.6 42.5,333.3 57.7,320.4 60,326.4 64.5,321.1 72.9,324.9 79,322.6 97.2,320.4 99.5,323.7 107,315.1 112.4,322.6 117.7,327.7 123,326.4 125.7,323.1" fill="none" stroke="#45aee0" stroke-width="2.6" stroke-linejoin="round" stroke-linecap="round"/></g>
<line x1="1174.5" y1="315.5" x2="1174.5" y2="464" stroke="#bfbfbf" stroke-width="3" stroke-dasharray="8.5 3"/>
<g transform="translate(410.7 246.6) scale(1 0.974)"><polyline points="767.3,88.7 776.7,83.2 784.3,88.7 791.9,97.1 799.5,105.9 805.8,110.5 812.2,97.1 815.9,87.7" fill="none" stroke="#45aee0" stroke-width="2.8" stroke-linejoin="round" stroke-linecap="round"/><polyline points="766.6,117.3 769.1,128.7 785.6,113.5 795.7,127.5 797,122.4 807.1,119.9 815.9,118.1" fill="none" stroke="#04283a" stroke-width="2.6" stroke-linejoin="round" stroke-linecap="round"/><polyline points="766.6,141.4 773.7,130 778,171.8 781.8,181.9 784.3,156.6 786.3,160.4 788.1,155.8 815.9,156.6" fill="none" stroke="#84e08c" stroke-width="2.7" stroke-linejoin="round" stroke-linecap="round"/><polyline points="766.6,188.2 770.4,180.6 772.9,190 775.4,181.9 778,179.4 781.8,184.9 815.9,184.9" fill="none" stroke="#ff0000" stroke-width="2.9" stroke-linejoin="round" stroke-linecap="round"/></g>
<line x1="1232.5" y1="279" x2="1253.79" y2="339.02" stroke="#000" stroke-width="2.6"/><polygon points="1256.8,347.5 1249.12,339.61 1257.79,336.54" fill="#000"/>
<text x="9.5" y="540.2" font-family='"Liberation Sans", sans-serif' font-size="22.5" font-weight="bold" fill="#ee1c25" textLength="165" lengthAdjust="spacingAndGlyphs" stroke="#ee1c25" stroke-width="0.4">(3)VIP: Replay</text>
<polyline points="12.9,679.5 19.7,671.1 31.1,689.6 44,674.9 54.7,688.6 69.8,668.1 79.7,682.5 96.4,666.9 103.2,678.7 116.9,665.8 120.7,666.5 125.3,673.4" fill="none" stroke="#f5333f" stroke-width="3" stroke-linejoin="round" stroke-linecap="round"/>
<g transform="translate(17.5 621) scale(0.920 1)"><g transform="translate(0 0) scale(1.04 1)"><text x="0" y="-0.67" font-family='"DejaVu Math TeX Gyre", "DejaVu Serif", "Liberation Serif", serif' font-size="23.94">𝒳</text></g><g transform="translate(22.52 0) scale(1.27 1)"><text x="0" y="7.18" font-family='"Liberation Serif", serif' font-size="18.62" stroke="#000" stroke-width="0.52">N</text><text x="14" y="7.18" font-family='"Liberation Serif", serif' font-size="18.62">,</text><text x="20.89" y="7.18" font-family='"Liberation Serif", serif' font-size="18.62" stroke="#000" stroke-width="0.52">T</text><text x="0.88" y="-0.53" font-family='"Liberation Serif", serif' font-size="29.26" font-style="italic">″</text></g><g transform="translate(64.3 0) scale(0.72 1)"><text x="0" y="3.05" font-family='"Liberation Serif", serif' font-size="36.2">[</text></g><text x="73.55" y="-0.8" font-family='"Liberation Serif", serif' font-size="28.73" font-weight="bold">b</text><text x="90.39" y="-0.8" font-family='"Liberation Serif", serif' font-size="28.73" font-style="italic">″</text><g transform="translate(103.5 0) scale(0.72 1)"><text x="0" y="3.05" font-family='"Liberation Serif", serif' font-size="36.2">]</text></g></g>
<rect x="141" y="565" width="240.5" height="162" rx="24" fill="#f2f2f2" stroke="#000" stroke-width="3.1"/>
<line x1="127" y1="650" x2="157" y2="650" stroke="#000" stroke-width="2.6"/>
<g fill="none" stroke="#b81f24"><circle cx="216.5" cy="596.4" r="21.3" stroke-width="1.7"/><circle cx="216.5" cy="596.4" r="18.4" stroke-width="1.5"/><path d="M216.5 585.5V596.4L224.3 604.3" stroke-width="2" stroke-linecap="round" stroke-linejoin="round"/></g><circle cx="216.5" cy="582.1" r="1.5" fill="#b81f24"/><circle cx="230.8" cy="596.4" r="1.5" fill="#b81f24"/><circle cx="216.5" cy="610.7" r="1.5" fill="#b81f24"/><circle cx="202.2" cy="596.4" r="1.5" fill="#b81f24"/>
<g transform="translate(241 590) scale(1.217 1)"><g transform="translate(0 0) scale(1.17 1)"><text x="0" y="0" font-family='"Liberation Serif", serif' font-size="21.7" stroke="#000" stroke-width="0.61">E</text><text x="13.25" y="6.73" font-family='"Liberation Serif", serif' font-size="14.32" stroke="#000" stroke-width="0.4">N</text><text x="13.25" y="-9.77" font-family='"Liberation Serif", serif' font-size="15.41" stroke="#000" stroke-width="0.43">temp</text></g><g transform="translate(52.85 0) scale(0.876 1)"><g transform="translate(0 0) scale(0.72 1)"><text x="0" y="2.91" font-family='"Liberation Serif", serif' font-size="29.51">[</text></g><text x="7.51" y="0" font-family='"Liberation Serif", serif' font-size="21.7" font-weight="bold">b</text><text x="20.23" y="0" font-family='"Liberation Serif", serif' font-size="21.7" font-style="italic">″</text><g transform="translate(30.14 0) scale(0.72 1)"><text x="0" y="2.91" font-family='"Liberation Serif", serif' font-size="29.51">]</text></g></g></g>
<path d="M244 598.2H334V623" fill="none" stroke="#000" stroke-width="2.6"/>
<polygon points="334,631.3 328.7,620.8 339.3,620.8" fill="#000"/>
<rect x="157" y="632.5" width="44" height="36" rx="8" fill="#f2f2f2" stroke="#0c2a3d" stroke-width="2.5"/><text x="166.2" y="656.8" font-family='"Liberation Sans", sans-serif' font-size="20" font-weight="bold" textLength="25.6" lengthAdjust="spacingAndGlyphs" stroke="#000" stroke-width="0.3">FC</text>
<g transform="translate(213.5 641.5) scale(1.162 1)"><g transform="translate(0 0) scale(1.17 1)"><text x="0" y="0" font-family='"Liberation Serif", serif' font-size="21.7" stroke="#000" stroke-width="0.61">E</text><text x="13.25" y="6.73" font-family='"Liberation Serif", serif' font-size="14.32" stroke="#000" stroke-width="0.4">N</text><text x="13.25" y="-9.77" font-family='"Liberation Serif", serif' font-size="15.41" stroke="#000" stroke-width="0.43">f</text></g><g transform="translate(28.91 0) scale(0.876 1)"><g transform="translate(0 0) scale(0.72 1)"><text x="0" y="2.91" font-family='"Liberation Serif", serif' font-size="29.51">[</text></g><text x="7.51" y="0" font-family='"Liberation Serif", serif' font-size="21.7" font-weight="bold">b</text><text x="20.23" y="0" font-family='"Liberation Serif", serif' font-size="21.7" font-style="italic">″</text><g transform="translate(30.14 0) scale(0.72 1)"><text x="0" y="2.91" font-family='"Liberation Serif", serif' font-size="29.51">]</text></g></g></g>
<line x1="201.5" y1="650" x2="279.5" y2="650" stroke="#000" stroke-width="2.6"/>
<polygon points="288,650 278,655 278,645" fill="#000"/>
<rect x="288.5" y="632.5" width="83.5" height="36" rx="8" fill="#f2f2f2" stroke="#0c2a3d" stroke-width="2.5"/>
<g transform="translate(291.5 657) scale(1.164 1)"><g transform="translate(0 0) scale(1.17 1)"><text x="0" y="0" font-family='"Liberation Serif", serif' font-size="21.7" stroke="#000" stroke-width="0.61">E</text><text x="13.25" y="6.73" font-family='"Liberation Serif", serif' font-size="14.32" stroke="#000" stroke-width="0.4">N</text><text x="13.25" y="-9.77" font-family='"Liberation Serif", serif' font-size="15.41" stroke="#000" stroke-width="0.43">all</text></g><g transform="translate(34.82 0) scale(0.876 1)"><g transform="translate(0 0) scale(0.72 1)"><text x="0" y="2.91" font-family='"Liberation Serif", serif' font-size="29.51">[</text></g><text x="7.51" y="0" font-family='"Liberation Serif", serif' font-size="21.7" font-weight="bold">b</text><text x="20.23" y="0" font-family='"Liberation Serif", serif' font-size="21.7" font-style="italic">″</text><g transform="translate(30.14 0) scale(0.72 1)"><text x="0" y="2.91" font-family='"Liberation Serif", serif' font-size="29.51">]</text></g></g></g>
<rect x="196" y="688.5" width="35" height="34.5" fill="#ff0000" stroke="#000" stroke-width="1.3"/>
<g transform="translate(235.5 694.5) scale(1.102 1)"><g transform="translate(0 0) scale(1.17 1)"><text x="0" y="0" font-family='"Liberation Serif", serif' font-size="21.7" stroke="#000" stroke-width="0.61">E</text><text x="13.25" y="6.73" font-family='"Liberation Serif", serif' font-size="14.32" stroke="#000" stroke-width="0.4">N</text><text x="13.25" y="-9.77" font-family='"Liberation Serif", serif' font-size="15.41" stroke="#000" stroke-width="0.43">node</text></g><g transform="translate(51.85 0) scale(0.876 1)"><g transform="translate(0 0) scale(0.72 1)"><text x="0" y="2.91" font-family='"Liberation Serif", serif' font-size="29.51">[</text></g><text x="7.51" y="0" font-family='"Liberation Serif", serif' font-size="21.7" font-weight="bold">b</text><text x="20.23" y="0" font-family='"Liberation Serif", serif' font-size="21.7" font-style="italic">″</text><g transform="translate(30.14 0) scale(0.72 1)"><text x="0" y="2.91" font-family='"Liberation Serif", serif' font-size="29.51">]</text></g></g></g>
<path d="M231 705.8H334V678" fill="none" stroke="#000" stroke-width="2.6"/>
<polygon points="334,669.5 339.3,680 328.7,680" fill="#000"/>
<line x1="372" y1="650" x2="397" y2="650" stroke="#000" stroke-width="2.6"/>
<text x="470" y="509.2" font-family='"Liberation Sans", sans-serif' font-size="18.6" font-weight="bold" textLength="78.8" lengthAdjust="spacingAndGlyphs" stroke="#000" stroke-width="0.4">Masked</text>
<text x="455.7" y="536.2" font-family='"Liberation Sans", sans-serif' font-size="18.6" font-weight="bold" textLength="106.8" lengthAdjust="spacingAndGlyphs" stroke="#000" stroke-width="0.4">Attentions</text>
<line x1="508.7" y1="546" x2="508.7" y2="556" stroke="#000" stroke-width="2.6"/>
<polygon points="508.7,564 503.7,554.5 513.7,554.5" fill="#000"/>
<rect x="397" y="565" width="231" height="150.5" rx="24" fill="#fce9df" stroke="#0c2a3d" stroke-width="3.2"/>
<text x="406.7" y="658.6" font-family='"Liberation Sans", sans-serif' font-size="28" textLength="27" lengthAdjust="spacingAndGlyphs">σ(</text>
<g transform="translate(422 611) scale(1.264 1)"><text x="0" y="0" font-family='"Liberation Serif", serif' font-size="21" stroke="#000" stroke-width="0.59">Q</text><g transform="translate(15.16 0) scale(0.72 1)"><text x="0" y="2.81" font-family='"Liberation Serif", serif' font-size="28.56">[</text></g><text x="22.43" y="0" font-family='"Liberation Serif", serif' font-size="21" font-weight="bold">p</text><text x="34.74" y="0" font-family='"Liberation Serif", serif' font-size="21" font-style="italic">″</text><g transform="translate(44.33 0) scale(0.72 1)"><text x="0" y="2.81" font-family='"Liberation Serif", serif' font-size="28.56">]</text></g></g>
<g transform="translate(489 599) scale(1.183 1)"><text x="0" y="0" font-family='"Liberation Serif", serif' font-size="23" stroke="#000" stroke-width="0.64">K</text><g transform="translate(16.61 0) scale(0.72 1)"><text x="0" y="3.08" font-family='"Liberation Serif", serif' font-size="31.28">[</text></g><text x="24.57" y="0" font-family='"Liberation Serif", serif' font-size="23" font-weight="bold">p</text><text x="38.05" y="0" font-family='"Liberation Serif", serif' font-size="23" font-style="italic">″</text><g transform="translate(48.55 0) scale(0.72 1)"><text x="0" y="3.08" font-family='"Liberation Serif", serif' font-size="31.28">]</text></g><text x="56.05" y="-9.66" font-family='"DejaVu Sans", sans-serif' font-size="14.26">⊤</text></g>
<rect x="437" y="621" width="15.67" height="14.85" fill="none" stroke="#000" stroke-width="1.2"/><rect x="452.67" y="621" width="15.67" height="14.85" fill="none" stroke="#000" stroke-width="1.2"/><rect x="468.33" y="621" width="15.67" height="14.85" fill="#84c9ea" stroke="#000" stroke-width="1.2"/><rect x="437" y="635.85" width="15.67" height="14.85" fill="none" stroke="#000" stroke-width="1.2"/><rect x="452.67" y="635.85" width="15.67" height="14.85" fill="none" stroke="#000" stroke-width="1.2"/><rect x="468.33" y="635.85" width="15.67" height="14.85" fill="#84c9ea" stroke="#000" stroke-width="1.2"/>
<text x="489" y="642" font-family='"Liberation Sans", sans-serif' font-size="23" font-weight="bold">x</text>
<rect x="509.5" y="608.7" width="15.25" height="15.1" fill="none" stroke="#000" stroke-width="1.2"/><rect x="524.75" y="608.7" width="15.25" height="15.1" fill="none" stroke="#000" stroke-width="1.2"/><rect x="509.5" y="623.8" width="15.25" height="15.1" fill="none" stroke="#000" stroke-width="1.2"/><rect x="524.75" y="623.8" width="15.25" height="15.1" fill="none" stroke="#000" stroke-width="1.2"/><rect x="509.5" y="638.9" width="15.25" height="15.1" fill="#ffc000" stroke="#000" stroke-width="1.2"/><rect x="524.75" y="638.9" width="15.25" height="15.1" fill="#ffc000" stroke="#000" stroke-width="1.2"/>
<text x="546.5" y="655" font-family='"Liberation Sans", sans-serif' font-size="28">)</text>
<line x1="440.8" y1="659.4" x2="541" y2="659.4" stroke="#000" stroke-width="2.6"/>
<path d="M457.29 693.65L461.34 691.19L468.18 707.5L479.07 667.9H519" fill="none" stroke="#000" stroke-width="1.7" stroke-linejoin="miter"/><path d="M461.84 691.6L468.18 706.5" fill="none" stroke="#000" stroke-width="3.2"/><text x="483" y="698.14" font-family='"Liberation Serif", serif' font-size="37" font-style="italic">d</text><text x="503.57" y="704.14" font-family='"Liberation Serif", serif' font-size="27" font-style="italic">k</text>
<g transform="translate(557 626.3) scale(1.378 1)"><text x="0" y="0" font-family='"Liberation Serif", serif' font-size="22.5" stroke="#000" stroke-width="0.63">p</text></g>
<text x="561.2" y="622.72" font-family='"Liberation Serif", serif' font-size="22.15">ˆ</text>
<text x="573.5" y="627" font-family='"Liberation Serif", serif' font-size="23" font-style="italic">″</text>
<text x="582.62" y="627.61" font-family='"DejaVu Sans", sans-serif' font-size="21.68">⊙</text>
<text x="599.8" y="628.4" font-family='"Liberation Sans", sans-serif' font-size="23.5" textLength="18.8" lengthAdjust="spacingAndGlyphs">V</text>
<rect x="564.5" y="637.8" width="15.5" height="15.3" fill="#ebe8cd" stroke="#000" stroke-width="1.2"/><rect x="580" y="637.8" width="15.5" height="15.3" fill="#c6e2a6" stroke="#000" stroke-width="1.2"/><rect x="595.5" y="637.8" width="15.5" height="15.3" fill="#8fd873" stroke="#000" stroke-width="1.2"/><rect x="564.5" y="653.1" width="15.5" height="15.3" fill="#ebe8cd" stroke="#000" stroke-width="1.2"/><rect x="580" y="653.1" width="15.5" height="15.3" fill="#c6e2a6" stroke="#000" stroke-width="1.2"/><rect x="595.5" y="653.1" width="15.5" height="15.3" fill="#8fd873" stroke="#000" stroke-width="1.2"/>
<path d="M600.6 716A27 37.7 0 0 0 627.6 754.5H992.6A30 37 0 0 0 1022.6 717.5V639" fill="none" stroke="#000" stroke-width="2.6"/>
<text x="647" y="510" font-family='"Liberation Sans", sans-serif' font-size="23.5" font-weight="bold" fill="#92d36e" textLength="321" lengthAdjust="spacingAndGlyphs" stroke="#92d36e" stroke-width="0.4">VIP:Dynamic Extrapolation</text>
<rect x="637.5" y="517.5" width="350" height="226" rx="34" fill="#e8f6e2" stroke="#000" stroke-width="3.3"/>
<g transform="translate(643 556) scale(1.203 1)"><g transform="translate(0 0) scale(1.17 1)"><text x="0" y="0" font-family='"Liberation Serif", serif' font-size="21.7" stroke="#000" stroke-width="0.61">E</text><text x="13.25" y="6.73" font-family='"Liberation Serif", serif' font-size="14.32" stroke="#000" stroke-width="0.4">N</text><text x="13.25" y="-9.77" font-family='"Liberation Serif", serif' font-size="15.41" stroke="#000" stroke-width="0.43">node</text></g><g transform="translate(51.85 0) scale(0.876 1)"><g transform="translate(0 0) scale(0.72 1)"><text x="0" y="2.91" font-family='"Liberation Serif", serif' font-size="29.51">[</text></g><text x="7.51" y="0" font-family='"Liberation Serif", serif' font-size="21.7" font-weight="bold">b</text><text x="20.23" y="0" font-family='"Liberation Serif", serif' font-size="21.7" font-style="italic">″</text><g transform="translate(30.14 0) scale(0.72 1)"><text x="0" y="2.91" font-family='"Liberation Serif", serif' font-size="29.51">]</text></g></g></g>
<rect x="749.5" y="531.5" width="35.5" height="35.5" fill="#ff4b4b" stroke="#000" stroke-width="1.3"/>
<line x1="785" y1="549" x2="804" y2="549" stroke="#000" stroke-width="2.6"/>
<rect x="804.5" y="529.5" width="43.5" height="37.5" rx="8" fill="#e8f6e2" stroke="#0c2a3d" stroke-width="2.5"/><text x="813.45" y="554.55" font-family='"Liberation Sans", sans-serif' font-size="20" font-weight="bold" textLength="25.6" lengthAdjust="spacingAndGlyphs" stroke="#000" stroke-width="0.3">FC</text>
<line x1="848" y1="548" x2="866" y2="548" stroke="#000" stroke-width="2.6"/>
<rect x="866" y="529.5" width="45.5" height="37.5" rx="8" fill="#e8f6e2" stroke="#0c2a3d" stroke-width="2.5"/><text x="888.75" y="557.39" font-family='"Liberation Sans", sans-serif' font-size="24" font-weight="bold" text-anchor="middle">X</text>
<text x="859" y="592.6" font-family='"Liberation Sans", sans-serif' font-size="27" textLength="13.5" lengthAdjust="spacingAndGlyphs">T</text>
<line x1="889" y1="567" x2="889" y2="600" stroke="#000" stroke-width="2.6"/>
<g transform="translate(644.7 621) scale(1.442 1)"><text x="0" y="0" font-family='"Liberation Serif", serif' font-size="21.7" stroke="#000" stroke-width="0.61">E</text><text x="13.25" y="6.73" font-family='"Liberation Serif", serif' font-size="14.32" stroke="#000" stroke-width="0.4">N</text><text x="13.25" y="-9.77" font-family='"Liberation Serif", serif' font-size="15.41" stroke="#000" stroke-width="0.43">node</text></g>
<rect x="714.5" y="601.5" width="34.5" height="33.5" fill="#45aee0" stroke="#000" stroke-width="1.3"/><rect x="749" y="601.5" width="34.5" height="33.5" fill="#04283a" stroke="#000" stroke-width="1.3"/><rect x="783.5" y="601.5" width="34.5" height="33.5" fill="#84e08c" stroke="#000" stroke-width="1.3"/><rect x="818" y="601.5" width="34.5" height="33.5" fill="#ff4b4b" stroke="#000" stroke-width="1.3"/>
<line x1="852.5" y1="618.5" x2="867" y2="618.5" stroke="#000" stroke-width="2.6"/>
<rect x="867.5" y="600.5" width="44" height="35.5" rx="8" fill="#e8f6e2" stroke="#0c2a3d" stroke-width="2.5"/><text x="876.7" y="624.55" font-family='"Liberation Sans", sans-serif' font-size="20" font-weight="bold" textLength="25.6" lengthAdjust="spacingAndGlyphs" stroke="#000" stroke-width="0.3">FC</text>
<path d="M911.5 548.5H947.8V603" fill="none" stroke="#000" stroke-width="2.6"/>
<rect x="926" y="603" width="44.5" height="36" rx="8" fill="#e8f6e2" stroke="#0c2a3d" stroke-width="2.5"/><text x="948.25" y="629.86" font-family='"Liberation Sans", sans-serif' font-size="26" font-weight="bold" text-anchor="middle">+</text>
<path d="M947.8 639V687.5H913.5" fill="none" stroke="#000" stroke-width="2.6"/>
<line x1="970.5" y1="621" x2="997.5" y2="621" stroke="#000" stroke-width="2.6"/>
<rect x="997.5" y="603" width="45" height="36" rx="8" fill="#fff" stroke="#0c2a3d" stroke-width="2.5"/>
<circle cx="1020" cy="621" r="10.5" fill="none" stroke="#000" stroke-width="1.3"/><circle cx="1020" cy="621" r="2.2"/>
<line x1="1042.5" y1="621.2" x2="1058" y2="621.2" stroke="#000" stroke-width="2.8"/>
<polygon points="1066.4,621.2 1056.4,626.2 1056.4,616.2" fill="#000"/>
<rect x="677.5" y="646" width="236" height="92" rx="17" fill="#e8f6e2" stroke="#0c2a3d" stroke-width="1.8"/>
<g transform="translate(680 699) scale(1.018 1)"><g transform="translate(0 0) scale(1.15 1)"><text x="0" y="0" font-family='"Liberation Serif", serif' font-size="23" font-weight="bold">A</text></g><g transform="translate(20.48 0) scale(0.92 1)"><g transform="translate(0 0) scale(0.72 1)"><text x="0" y="2.68" font-family='"Liberation Serif", serif' font-size="27.21">[</text></g><text x="6.92" y="0" font-family='"Liberation Serif", serif' font-size="20.01" font-weight="bold">b</text><text x="18.66" y="0" font-family='"Liberation Serif", serif' font-size="20.01" font-style="italic">″</text><g transform="translate(27.79 0) scale(0.72 1)"><text x="0" y="2.68" font-family='"Liberation Serif", serif' font-size="27.21">]</text></g></g></g>
<text x="687.5" y="688.5" font-family='"Liberation Serif", serif' font-size="19" text-anchor="middle" stroke="#000" stroke-width="0.53">ˆ</text>
<rect x="736" y="651.5" width="79.5" height="80.5" fill="#e6e6e6" stroke="#24375f" stroke-width="1.8"/>
<line x1="795.5" y1="711.5" x2="754.8" y2="670.4" stroke="#4d94da" stroke-width="3.2"/>
<line x1="795.5" y1="711.5" x2="794.7" y2="670.4" stroke="#4d94da" stroke-width="3.2"/>
<line x1="795.5" y1="711.5" x2="754.8" y2="711.5" stroke="#4d94da" stroke-width="3.2"/>
<circle cx="754.8" cy="670.4" r="11" fill="#e4e4e4"/><circle cx="754.8" cy="670.4" r="11" fill="none" stroke="#1f3864" stroke-width="1.6" stroke-dasharray="5 2.7"/>
<circle cx="794.7" cy="670.4" r="11" fill="#e4e4e4"/><circle cx="794.7" cy="670.4" r="11" fill="none" stroke="#1f3864" stroke-width="1.6" stroke-dasharray="5 2.7"/>
<circle cx="754.8" cy="711.5" r="11" fill="#e4e4e4"/><circle cx="754.8" cy="711.5" r="11" fill="none" stroke="#1f3864" stroke-width="1.6" stroke-dasharray="5 2.7"/>
<circle cx="795.5" cy="711.5" r="10.3" fill="#fb4a52" stroke="#1d3557" stroke-width="1.5"/>
<circle cx="841" cy="690" r="13.5" fill="none" stroke="#000" stroke-width="1.4"/><circle cx="841" cy="690" r="2.6"/>
<g transform="translate(850.6 674.5) scale(1.069 1)"><text x="0" y="0" font-family='"Liberation Serif", serif' font-size="22" stroke="#000" stroke-width="0.62">b</text><text x="11" y="0" font-family='"Liberation Serif", serif' font-size="22">″</text><g transform="translate(20.16 0) scale(0.72 1)"><text x="0" y="2.95" font-family='"Liberation Serif", serif' font-size="29.92">[</text></g><text x="27.78" y="0" font-family='"Liberation Serif", serif' font-size="22" font-weight="bold">b</text><text x="40.67" y="0" font-family='"Liberation Serif", serif' font-size="22" font-style="italic">″</text><g transform="translate(50.72 0) scale(0.72 1)"><text x="0" y="2.95" font-family='"Liberation Serif", serif' font-size="29.92">]</text></g><text x="6" y="-4.84" font-family='"Liberation Serif", serif' font-size="20.9" text-anchor="middle">ˆ</text></g>
<rect x="869" y="689" width="29" height="29" fill="#e8f6e2" stroke="#0c2a3d" stroke-width="1.6"/>
<text x="883.5" y="707.8" font-family='"Liberation Sans", sans-serif' font-size="15.5" font-weight="bold" text-anchor="middle">0.6</text>
<g transform="translate(1039 544.6) scale(0.918 1)"><g transform="translate(0 0) scale(1.04 1)"><text x="0" y="-0.67" font-family='"DejaVu Math TeX Gyre", "DejaVu Serif", "Liberation Serif", serif' font-size="23.94">𝒳</text></g><g transform="translate(22.52 0) scale(1.27 1)"><text x="0" y="7.18" font-family='"Liberation Serif", serif' font-size="18.62" stroke="#000" stroke-width="0.52">N</text><text x="14" y="7.18" font-family='"Liberation Serif", serif' font-size="18.62">,</text><text x="20.89" y="7.18" font-family='"Liberation Serif", serif' font-size="18.62" stroke="#000" stroke-width="0.52">T</text><text x="0.88" y="-0.53" font-family='"Liberation Serif", serif' font-size="29.26" font-style="italic">″</text></g><g transform="translate(64.3 0) scale(0.72 1)"><text x="0" y="3.05" font-family='"Liberation Serif", serif' font-size="36.2">[</text></g><text x="73.55" y="-0.8" font-family='"Liberation Serif", serif' font-size="28.73" font-weight="bold">b</text><text x="90.39" y="-0.8" font-family='"Liberation Serif", serif' font-size="28.73" font-style="italic">″</text><g transform="translate(103.5 0) scale(0.72 1)"><text x="0" y="3.05" font-family='"Liberation Serif", serif' font-size="36.2">]</text></g></g>
<line x1="1144.5" y1="538.7" x2="1158" y2="538.7" stroke="#000" stroke-width="3.4"/>
<polygon points="1167.5,538.7 1156,544.6 1156,532.8" fill="#000"/>
<g transform="translate(1170 544.6) scale(0.876 1)"><g transform="translate(0 0) scale(1.04 1)"><text x="0" y="-0.67" font-family='"DejaVu Math TeX Gyre", "DejaVu Serif", "Liberation Serif", serif' font-size="23.94">𝒳</text></g><g transform="translate(22.52 0) scale(1.27 1)"><text x="0" y="7.18" font-family='"Liberation Serif", serif' font-size="18.62" stroke="#000" stroke-width="0.52">N</text><text x="14" y="7.18" font-family='"Liberation Serif", serif' font-size="18.62">,</text><text x="20.89" y="7.18" font-family='"Liberation Serif", serif' font-size="18.62" stroke="#000" stroke-width="0.52">T</text><text x="33.01" y="7.18" font-family='"Liberation Serif", serif' font-size="18.62" font-style="italic">′</text><text x="0.88" y="-0.53" font-family='"Liberation Serif", serif' font-size="29.26" font-style="italic">″</text></g></g>
<g transform="translate(1059.4 122.8) scale(0.923 0.866)" opacity="0.25"><polyline points="12.9,679.5 19.7,671.1 31.1,689.6 44,674.9 54.7,688.6 69.8,668.1 79.7,682.5 96.4,666.9 103.2,678.7 116.9,665.8 120.7,666.5 125.3,673.4" fill="none" stroke="#f5333f" stroke-width="3" stroke-linejoin="round" stroke-linecap="round"/></g>
<line x1="1175" y1="579" x2="1175" y2="753.7" stroke="#bfbfbf" stroke-width="3" stroke-dasharray="8.5 3"/>
<polyline points="1176,591.7 1183.3,620.3 1193.2,587.4 1199.7,600.6 1202,596.3 1227.7,595.6" fill="none" stroke="#45aee0" stroke-width="2.8" stroke-linejoin="round" stroke-linecap="round"/><polyline points="1176,633.5 1181,630.2 1183.3,635.2 1188.2,631.2 1201.4,636.2 1216.2,641.8 1222.8,636.8 1227.7,626" fill="none" stroke="#04283a" stroke-width="2.8" stroke-linejoin="round" stroke-linecap="round"/><polyline points="1176,679.6 1209.6,675.7 1213.6,668.1 1219.5,686.2 1224.4,678 1226.8,671.4" fill="none" stroke="#84e08c" stroke-width="2.8" stroke-linejoin="round" stroke-linecap="round"/><polyline points="1176,702.7 1184.9,689.5 1188.9,748.8 1201.4,707.6 1203,719.2 1206.3,710.3 1209.6,715.9 1214.6,709.3 1222.8,714.9 1227.1,713.6" fill="none" stroke="#f5333f" stroke-width="2.8" stroke-linejoin="round" stroke-linecap="round"/>
<line x1="1256.6" y1="460" x2="1228.13" y2="531.44" stroke="#000" stroke-width="2.6"/><polygon points="1224.8,539.8 1224.23,528.81 1232.78,532.21" fill="#000"/>
<text x="1368" y="289" font-family='"Liberation Sans", sans-serif' font-size="23.7" font-weight="bold" textLength="71.3" lengthAdjust="spacingAndGlyphs" stroke="#000" stroke-width="0.4">Buffer</text>
<text x="1446" y="289" font-family='"DejaVu Sans", sans-serif' font-size="24" textLength="26" lengthAdjust="spacingAndGlyphs">ℛ</text>
<rect x="1255.6" y="322.7" width="295.1" height="53.9" fill="#ebf5e4" stroke="#000" stroke-width="1.5"/>
<rect x="1255.6" y="376.6" width="295.1" height="53.4" fill="#d5e9c8" stroke="#000" stroke-width="1.5"/>
<rect x="1255.6" y="430" width="295.1" height="54.8" fill="#b8d8a0" stroke="#000" stroke-width="1.5"/>
<line x1="1502" y1="322.7" x2="1502" y2="484.8" stroke="#000" stroke-width="1.8"/>
<g transform="translate(1278 356.5) scale(1.087 1)"><text x="0" y="0" font-family='"Liberation Serif", serif' font-size="20.5" stroke="#000" stroke-width="0.57">S</text></g>
<text x="1298.2" y="355.9" font-family='"Liberation Serif", serif' font-size="20.5">:</text>
<g transform="translate(1314 360.04) scale(0.852 1)"><text x="-1.81" y="0" font-family='"Liberation Serif", serif' font-size="41.12" stroke="#ebf5e4" stroke-width="0.9">(</text></g>
<g transform="translate(1324.8 356.5) scale(0.963 1)"><g transform="translate(0 0) scale(1.12 1)"><text x="0" y="-0.41" font-family='"DejaVu Math TeX Gyre", "DejaVu Serif", "Liberation Serif", serif' font-size="19.07">𝒳</text></g><g transform="translate(19.02 0) scale(1.2 1)"><text x="0" y="3.2" font-family='"Liberation Serif", serif' font-size="15.99" stroke="#000" stroke-width="0.45">N</text><text x="11.87" y="3.2" font-family='"Liberation Serif", serif' font-size="15.99">,</text><text x="17.46" y="3.2" font-family='"Liberation Serif", serif' font-size="15.99" stroke="#000" stroke-width="0.45">T</text></g></g>
<text x="1375.97" y="356.5" font-family='"Liberation Serif", serif' font-size="20.5">,</text>
<g transform="translate(1387 356.5) scale(0.965 1)"><g transform="translate(0 0) scale(1.12 1)"><text x="0" y="-0.41" font-family='"DejaVu Math TeX Gyre", "DejaVu Serif", "Liberation Serif", serif' font-size="19.07">𝒳</text></g><g transform="translate(19.02 0) scale(1.2 1)"><text x="0" y="3.2" font-family='"Liberation Serif", serif' font-size="15.99" stroke="#000" stroke-width="0.45">N</text><text x="11.87" y="3.2" font-family='"Liberation Serif", serif' font-size="15.99">,</text><text x="17.46" y="3.2" font-family='"Liberation Serif", serif' font-size="15.99" stroke="#000" stroke-width="0.45">T</text><text x="27.71" y="3.2" font-family='"Liberation Serif", serif' font-size="15.99" font-style="italic">′</text></g></g>
<text x="1444.87" y="356.5" font-family='"Liberation Serif", serif' font-size="20.5">,</text>
<g transform="translate(1456.8 356.5) scale(1.122 1)"><text x="0" y="0" font-family='"Liberation Serif", serif' font-size="20.5" stroke="#000" stroke-width="0.57">b</text></g><text x="1460" y="348.19" font-family='"Liberation Serif", serif' font-size="17.09" stroke="#000" stroke-width="0.48">ˆ</text>
<text x="1469.57" y="356.5" font-family='"Liberation Serif", serif' font-size="20.5">,</text>
<g transform="translate(1480.7 356.5) scale(1.220 1)"><text x="0" y="0" font-family='"Liberation Serif", serif' font-size="20.5" stroke="#000" stroke-width="0.57">p</text></g><text x="1484.4" y="353.29" font-family='"Liberation Serif", serif' font-size="17.09" stroke="#000" stroke-width="0.48">ˆ</text>
<text x="1494.57" y="356.5" font-family='"Liberation Serif", serif' font-size="20.5">,</text>
<g transform="translate(1505.2 356.5) scale(1.301 1)"><text x="0" y="0" font-family='"Liberation Serif", serif' font-size="20.5" stroke="#000" stroke-width="0.57">P</text><text x="12.02" y="3.2" font-family='"Liberation Serif", serif' font-size="15.99" stroke="#000" stroke-width="0.45">S</text></g>
<g transform="translate(1535.3 360.04) scale(0.852 1)"><text x="-1.32" y="0" font-family='"Liberation Serif", serif' font-size="41.12" stroke="#ebf5e4" stroke-width="0.9">)</text></g>
<circle cx="1327.6" cy="405" r="2"/>
<circle cx="1336.85" cy="405" r="2"/>
<circle cx="1346.1" cy="405" r="2"/>
<circle cx="1355.35" cy="405" r="2"/>
<circle cx="1364.6" cy="405" r="2"/>
<circle cx="1373.85" cy="405" r="2"/>
<circle cx="1512.6" cy="405" r="2"/>
<circle cx="1521.9" cy="405" r="2"/>
<circle cx="1531.2" cy="405" r="2"/>
<g transform="translate(1263 464.4) scale(1.052 1)"><text x="0" y="0" font-family='"Liberation Serif", serif' font-size="20.5" stroke="#000" stroke-width="0.57">S</text></g>
<text x="1275.3" y="464.4" font-family='"Liberation Serif", serif' font-size="19.47" font-style="italic">″</text>
<text x="1292.5" y="463.8" font-family='"Liberation Serif", serif' font-size="20.5">:</text>
<g transform="translate(1306.7 468.04) scale(0.861 1)"><text x="-1.81" y="0" font-family='"Liberation Serif", serif' font-size="41.12" stroke="#b8d8a0" stroke-width="0.9">(</text></g>
<g transform="translate(1317.2 464.4) scale(0.851 1)"><g transform="translate(0 0) scale(1.12 1)"><text x="0" y="-0.41" font-family='"DejaVu Math TeX Gyre", "DejaVu Serif", "Liberation Serif", serif' font-size="19.07">𝒳</text></g><g transform="translate(19.02 0) scale(1.2 1)"><text x="0" y="5.74" font-family='"Liberation Serif", serif' font-size="15.99" stroke="#000" stroke-width="0.45">N</text><text x="11.87" y="5.74" font-family='"Liberation Serif", serif' font-size="15.99">,</text><text x="17.46" y="5.74" font-family='"Liberation Serif", serif' font-size="15.99" stroke="#000" stroke-width="0.45">T</text><text x="1.48" y="-3.49" font-family='"Liberation Serif", serif' font-size="18.45" font-style="italic">″</text></g></g>
<text x="1364.57" y="464.4" font-family='"Liberation Serif", serif' font-size="20.5">,</text>
<g transform="translate(1374.6 464.4) scale(0.880 1)"><g transform="translate(0 0) scale(1.12 1)"><text x="0" y="-0.41" font-family='"DejaVu Math TeX Gyre", "DejaVu Serif", "Liberation Serif", serif' font-size="19.07">𝒳</text></g><g transform="translate(19.02 0) scale(1.2 1)"><text x="0" y="5.74" font-family='"Liberation Serif", serif' font-size="15.99" stroke="#000" stroke-width="0.45">N</text><text x="11.87" y="5.74" font-family='"Liberation Serif", serif' font-size="15.99">,</text><text x="17.46" y="5.74" font-family='"Liberation Serif", serif' font-size="15.99" stroke="#000" stroke-width="0.45">T</text><text x="27.71" y="5.74" font-family='"Liberation Serif", serif' font-size="15.99" font-style="italic">′</text><text x="1.48" y="-3.49" font-family='"Liberation Serif", serif' font-size="18.45" font-style="italic">″</text></g></g>
<text x="1427.57" y="464.4" font-family='"Liberation Serif", serif' font-size="20.5">,</text>
<g transform="translate(1438.7 464.4) scale(1.102 1)"><text x="0" y="0" font-family='"Liberation Serif", serif' font-size="20.5" stroke="#000" stroke-width="0.57">b</text></g><text x="1441.8" y="455.69" font-family='"Liberation Serif", serif' font-size="17.09" stroke="#000" stroke-width="0.48">ˆ</text><text x="1450.3" y="464.4" font-family='"Liberation Serif", serif' font-size="19.47" font-style="italic">″</text>
<text x="1462.07" y="464.4" font-family='"Liberation Serif", serif' font-size="20.5">,</text>
<g transform="translate(1471.2 464.4) scale(1.210 1)"><text x="0" y="0" font-family='"Liberation Serif", serif' font-size="20.5" stroke="#000" stroke-width="0.57">p</text></g><text x="1474.85" y="460.69" font-family='"Liberation Serif", serif' font-size="17.09" stroke="#000" stroke-width="0.48">ˆ</text><text x="1483.8" y="464.4" font-family='"Liberation Serif", serif' font-size="19.47" font-style="italic">″</text>
<text x="1494.57" y="464.4" font-family='"Liberation Serif", serif' font-size="20.5">,</text>
<g transform="translate(1505.2 464.4) scale(1.212 1)"><text x="0" y="0" font-family='"Liberation Serif", serif' font-size="20.5" stroke="#000" stroke-width="0.57">P</text><text x="12.02" y="3.2" font-family='"Liberation Serif", serif' font-size="15.99" stroke="#000" stroke-width="0.45">S</text><text x="21.23" y="3.2" font-family='"Liberation Serif", serif' font-size="15.99" font-style="italic">″</text></g>
<g transform="translate(1542 468.04) scale(0.814 1)"><text x="-1.32" y="0" font-family='"Liberation Serif", serif' font-size="41.12" stroke="#b8d8a0" stroke-width="0.9">)</text></g>
<text x="1345.4" y="512.4" font-family='"Liberation Sans", sans-serif' font-size="19.8" textLength="73.4" lengthAdjust="spacingAndGlyphs">Sample</text>
<text x="1477.3" y="510.8" font-family='"Liberation Sans", sans-serif' font-size="19.8" textLength="68" lengthAdjust="spacingAndGlyphs">Priority</text>
<g transform="translate(1294.5 594.4) scale(1.240 1)"><text x="0" y="0" font-family='"Liberation Serif", serif' font-size="24.6" font-weight="bold">P</text><text x="15.03" y="3.94" font-family='"Liberation Serif", serif' font-size="17.22" font-weight="bold">S</text></g>
<text x="1335.3" y="595.3" font-family='"Liberation Serif", serif' font-size="25" textLength="17.5" lengthAdjust="spacingAndGlyphs">=</text>
<line x1="1364.4" y1="587.5" x2="1512.3" y2="587.5" stroke="#000" stroke-width="1.2"/>
<text x="1434" y="583.2" font-family='"Liberation Serif", serif' font-size="13" textLength="8.2" lengthAdjust="spacingAndGlyphs" stroke="#000" stroke-width="0.36">1</text>
<g transform="translate(1365 606.3) scale(1.490 1)"><text x="0" y="0" font-family='"DejaVu Sans", sans-serif' font-size="14.4">ℒ</text><text x="10.37" y="0" font-family='"Liberation Serif", serif' font-size="16" font-style="italic">(</text><text x="19.38" y="-3.2" font-family='"Liberation Serif", serif' font-size="14.4">ˆ</text><text x="15.21" y="0" font-family='"DejaVu Math TeX Gyre", "DejaVu Serif", "Liberation Serif", serif' font-size="13.76">𝒳</text><text x="28.07" y="3.52" font-family='"Liberation Serif", serif' font-size="12.48" stroke="#000" stroke-width="0.35">N</text><text x="37.09" y="3.52" font-family='"Liberation Serif", serif' font-size="12.48">,</text><text x="40.83" y="3.52" font-family='"Liberation Serif", serif' font-size="12.48" stroke="#000" stroke-width="0.35">T</text><text x="48.83" y="3.52" font-family='"Liberation Serif", serif' font-size="12.48" font-style="italic">′</text><text x="52.04" y="0" font-family='"Liberation Serif", serif' font-size="16">,</text><text x="56.36" y="0" font-family='"DejaVu Math TeX Gyre", "DejaVu Serif", "Liberation Serif", serif' font-size="13.76">𝒳</text><text x="69.22" y="3.52" font-family='"Liberation Serif", serif' font-size="12.48" stroke="#000" stroke-width="0.35">N</text><text x="78.23" y="3.52" font-family='"Liberation Serif", serif' font-size="12.48">,</text><text x="81.98" y="3.52" font-family='"Liberation Serif", serif' font-size="12.48" stroke="#000" stroke-width="0.35">T</text><text x="89.98" y="3.52" font-family='"Liberation Serif", serif' font-size="12.48" font-style="italic">′</text><text x="93.19" y="0" font-family='"Liberation Serif", serif' font-size="16" font-style="italic">)</text></g>
<line x1="1392.4" y1="629.3" x2="1392.4" y2="654.4" stroke="#000" stroke-width="2.6"/><polygon points="1392.4,663.9 1386.9,653.4 1397.9,653.4" fill="#000"/>
<g transform="translate(1255.8 694.5) scale(1.163 1)"><text x="0" y="0" font-family='"Liberation Serif", serif' font-size="24.5" font-weight="bold">Prob</text><text x="51.27" y="0" font-family='"Liberation Serif", serif' font-size="24.5">(</text><text x="59.43" y="0" font-family='"Liberation Serif", serif' font-size="24.5" font-weight="bold">S</text><text x="73.06" y="0" font-family='"Liberation Serif", serif' font-size="24.5" font-style="italic">″</text><text x="84" y="0" font-family='"Liberation Serif", serif' font-size="24.5">)</text></g>
<text x="1373.2" y="695.3" font-family='"Liberation Serif", serif' font-size="25" textLength="17.5" lengthAdjust="spacingAndGlyphs">=</text>
<line x1="1402" y1="688.5" x2="1551.6" y2="688.5" stroke="#000" stroke-width="1.2"/>
<g transform="translate(1444 683) scale(1.809 1)"><text x="0" y="0" font-family='"Liberation Serif", serif' font-size="16">(</text><text x="5.33" y="0" font-family='"Liberation Serif", serif' font-size="16" stroke="#000" stroke-width="0.45">P</text><text x="14.23" y="2.56" font-family='"Liberation Serif", serif' font-size="10.56" stroke="#000" stroke-width="0.3">S</text><text x="20.1" y="2.56" font-family='"Liberation Serif", serif' font-size="10.56">″</text><text x="24.5" y="0" font-family='"Liberation Serif", serif' font-size="16">)</text><text x="29.83" y="-6.4" font-family='"Liberation Serif", serif' font-size="11.2" font-style="italic">α</text></g>
<g transform="translate(1403.2 702) scale(1.777 1)"><text x="0" y="1.92" font-family='"DejaVu Sans", sans-serif' font-size="16.8">∑</text><text x="11.32" y="6.72" font-family='"DejaVu Sans", sans-serif' font-size="10.56">∀</text><text x="18.54" y="6.72" font-family='"Liberation Serif", serif' font-size="10.56" stroke="#000" stroke-width="0.3">S</text><text x="24.42" y="6.72" font-family='"Liberation Serif", serif' font-size="10.56">″</text><text x="28.82" y="6.72" font-family='"DejaVu Sans", sans-serif' font-size="10.56">∈</text><text x="38.02" y="6.72" font-family='"DejaVu Sans", sans-serif' font-size="10.56">ℛ</text><text x="47.24" y="0" font-family='"Liberation Serif", serif' font-size="16">(</text><text x="52.57" y="0" font-family='"Liberation Serif", serif' font-size="16" stroke="#000" stroke-width="0.45">P</text><text x="61.47" y="2.56" font-family='"Liberation Serif", serif' font-size="10.56" stroke="#000" stroke-width="0.3">S</text><text x="67.34" y="2.56" font-family='"Liberation Serif", serif' font-size="10.56">″</text><text x="71.74" y="0" font-family='"Liberation Serif", serif' font-size="16">)</text><text x="77.07" y="-6.4" font-family='"Liberation Serif", serif' font-size="11.2" font-style="italic">α</text></g>
</svg>
</body></html>
